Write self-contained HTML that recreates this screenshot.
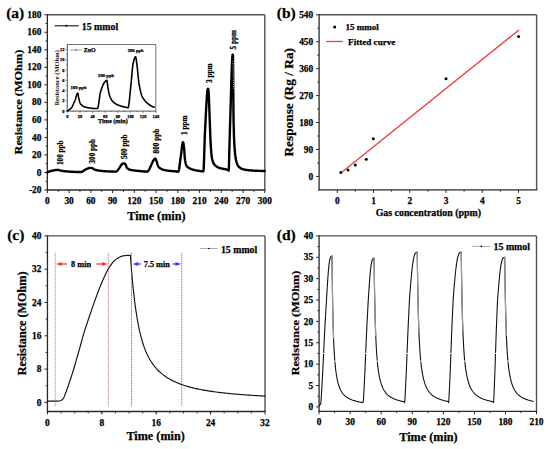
<!DOCTYPE html>
<html><head><meta charset="utf-8"><style>
html,body{margin:0;padding:0;background:#fff;}
body{width:550px;height:449px;overflow:hidden;}
svg{display:block;}
text{font-family:"Liberation Serif",serif;font-weight:bold;stroke:#000;stroke-width:0.25px;paint-order:stroke;}
</style></head><body>
<svg width="550" height="449" viewBox="0 0 550 449">
<rect width="550" height="449" fill="#fff"/>
<line x1="47.35" y1="14.75" x2="264.8" y2="14.75" stroke="#505050" stroke-width="1.4" />
<line x1="264.8" y1="14.75" x2="264.8" y2="190" stroke="#505050" stroke-width="1.4" />
<line x1="47.35" y1="14.1" x2="47.35" y2="190.65" stroke="#2a2a2a" stroke-width="1.3" />
<line x1="46.7" y1="190" x2="265.5" y2="190" stroke="#2a2a2a" stroke-width="1.3" />
<line x1="58.22" y1="190" x2="58.22" y2="191.8" stroke="#2a2a2a" stroke-width="1.0" />
<line x1="79.97" y1="190" x2="79.97" y2="191.8" stroke="#2a2a2a" stroke-width="1.0" />
<line x1="101.71" y1="190" x2="101.71" y2="191.8" stroke="#2a2a2a" stroke-width="1.0" />
<line x1="123.46" y1="190" x2="123.46" y2="191.8" stroke="#2a2a2a" stroke-width="1.0" />
<line x1="145.2" y1="190" x2="145.2" y2="191.8" stroke="#2a2a2a" stroke-width="1.0" />
<line x1="166.95" y1="190" x2="166.95" y2="191.8" stroke="#2a2a2a" stroke-width="1.0" />
<line x1="188.69" y1="190" x2="188.69" y2="191.8" stroke="#2a2a2a" stroke-width="1.0" />
<line x1="210.44" y1="190" x2="210.44" y2="191.8" stroke="#2a2a2a" stroke-width="1.0" />
<line x1="232.18" y1="190" x2="232.18" y2="191.8" stroke="#2a2a2a" stroke-width="1.0" />
<line x1="253.93" y1="190" x2="253.93" y2="191.8" stroke="#2a2a2a" stroke-width="1.0" />
<line x1="47.35" y1="190" x2="47.35" y2="193" stroke="#2a2a2a" stroke-width="1.0" />
<line x1="69.09" y1="190" x2="69.09" y2="193" stroke="#2a2a2a" stroke-width="1.0" />
<line x1="90.84" y1="190" x2="90.84" y2="193" stroke="#2a2a2a" stroke-width="1.0" />
<line x1="112.59" y1="190" x2="112.59" y2="193" stroke="#2a2a2a" stroke-width="1.0" />
<line x1="134.33" y1="190" x2="134.33" y2="193" stroke="#2a2a2a" stroke-width="1.0" />
<line x1="156.08" y1="190" x2="156.08" y2="193" stroke="#2a2a2a" stroke-width="1.0" />
<line x1="177.82" y1="190" x2="177.82" y2="193" stroke="#2a2a2a" stroke-width="1.0" />
<line x1="199.56" y1="190" x2="199.56" y2="193" stroke="#2a2a2a" stroke-width="1.0" />
<line x1="221.31" y1="190" x2="221.31" y2="193" stroke="#2a2a2a" stroke-width="1.0" />
<line x1="243.06" y1="190" x2="243.06" y2="193" stroke="#2a2a2a" stroke-width="1.0" />
<line x1="264.8" y1="190" x2="264.8" y2="193" stroke="#2a2a2a" stroke-width="1.0" />
<line x1="47.35" y1="181.24" x2="45.55" y2="181.24" stroke="#2a2a2a" stroke-width="1.0" />
<line x1="47.35" y1="163.71" x2="45.55" y2="163.71" stroke="#2a2a2a" stroke-width="1.0" />
<line x1="47.35" y1="146.19" x2="45.55" y2="146.19" stroke="#2a2a2a" stroke-width="1.0" />
<line x1="47.35" y1="128.66" x2="45.55" y2="128.66" stroke="#2a2a2a" stroke-width="1.0" />
<line x1="47.35" y1="111.14" x2="45.55" y2="111.14" stroke="#2a2a2a" stroke-width="1.0" />
<line x1="47.35" y1="93.61" x2="45.55" y2="93.61" stroke="#2a2a2a" stroke-width="1.0" />
<line x1="47.35" y1="76.09" x2="45.55" y2="76.09" stroke="#2a2a2a" stroke-width="1.0" />
<line x1="47.35" y1="58.56" x2="45.55" y2="58.56" stroke="#2a2a2a" stroke-width="1.0" />
<line x1="47.35" y1="41.04" x2="45.55" y2="41.04" stroke="#2a2a2a" stroke-width="1.0" />
<line x1="47.35" y1="23.51" x2="45.55" y2="23.51" stroke="#2a2a2a" stroke-width="1.0" />
<line x1="47.35" y1="190" x2="44.35" y2="190" stroke="#2a2a2a" stroke-width="1.0" />
<line x1="47.35" y1="172.47" x2="44.35" y2="172.47" stroke="#2a2a2a" stroke-width="1.0" />
<line x1="47.35" y1="154.95" x2="44.35" y2="154.95" stroke="#2a2a2a" stroke-width="1.0" />
<line x1="47.35" y1="137.43" x2="44.35" y2="137.43" stroke="#2a2a2a" stroke-width="1.0" />
<line x1="47.35" y1="119.9" x2="44.35" y2="119.9" stroke="#2a2a2a" stroke-width="1.0" />
<line x1="47.35" y1="102.38" x2="44.35" y2="102.38" stroke="#2a2a2a" stroke-width="1.0" />
<line x1="47.35" y1="84.85" x2="44.35" y2="84.85" stroke="#2a2a2a" stroke-width="1.0" />
<line x1="47.35" y1="67.33" x2="44.35" y2="67.33" stroke="#2a2a2a" stroke-width="1.0" />
<line x1="47.35" y1="49.8" x2="44.35" y2="49.8" stroke="#2a2a2a" stroke-width="1.0" />
<line x1="47.35" y1="32.28" x2="44.35" y2="32.28" stroke="#2a2a2a" stroke-width="1.0" />
<line x1="47.35" y1="14.75" x2="44.35" y2="14.75" stroke="#2a2a2a" stroke-width="1.0" />
<text x="47.35" y="203.8" font-size="9.4" text-anchor="middle" fill="#000" >0</text>
<text x="69.09" y="203.8" font-size="9.4" text-anchor="middle" fill="#000" >30</text>
<text x="90.84" y="203.8" font-size="9.4" text-anchor="middle" fill="#000" >60</text>
<text x="112.59" y="203.8" font-size="9.4" text-anchor="middle" fill="#000" >90</text>
<text x="134.33" y="203.8" font-size="9.4" text-anchor="middle" fill="#000" >120</text>
<text x="156.08" y="203.8" font-size="9.4" text-anchor="middle" fill="#000" >150</text>
<text x="177.82" y="203.8" font-size="9.4" text-anchor="middle" fill="#000" >180</text>
<text x="199.56" y="203.8" font-size="9.4" text-anchor="middle" fill="#000" >210</text>
<text x="221.31" y="203.8" font-size="9.4" text-anchor="middle" fill="#000" >240</text>
<text x="243.06" y="203.8" font-size="9.4" text-anchor="middle" fill="#000" >270</text>
<text x="264.8" y="203.8" font-size="9.4" text-anchor="middle" fill="#000" >300</text>
<text x="41.4" y="193.1" font-size="9.4" text-anchor="end" fill="#000" >-20</text>
<text x="41.4" y="175.58" font-size="9.4" text-anchor="end" fill="#000" >0</text>
<text x="41.4" y="158.05" font-size="9.4" text-anchor="end" fill="#000" >20</text>
<text x="41.4" y="140.53" font-size="9.4" text-anchor="end" fill="#000" >40</text>
<text x="41.4" y="123" font-size="9.4" text-anchor="end" fill="#000" >60</text>
<text x="41.4" y="105.48" font-size="9.4" text-anchor="end" fill="#000" >80</text>
<text x="41.4" y="87.95" font-size="9.4" text-anchor="end" fill="#000" >100</text>
<text x="41.4" y="70.43" font-size="9.4" text-anchor="end" fill="#000" >120</text>
<text x="41.4" y="52.9" font-size="9.4" text-anchor="end" fill="#000" >140</text>
<text x="41.4" y="35.38" font-size="9.4" text-anchor="end" fill="#000" >160</text>
<text x="41.4" y="17.85" font-size="9.4" text-anchor="end" fill="#000" >180</text>
<polyline points="47.35,172.39 47.5,172.32 47.64,172.26 47.79,172.19 47.93,172.12 48.08,172.06 48.22,172 48.37,171.93 48.51,171.87 48.66,171.81 48.8,171.75 48.95,171.69 49.09,171.63 49.24,171.57 49.38,171.51 49.53,171.46 49.67,171.4 49.82,171.35 49.96,171.3 50.11,171.25 50.25,171.2 50.4,171.15 50.54,171.11 50.69,171.07 50.83,171.02 50.98,170.99 51.12,170.95 51.27,170.91 51.34,170.9 51.41,170.88 51.56,170.85 51.7,170.82 51.85,170.78 51.99,170.75 52.14,170.72 52.28,170.69 52.43,170.65 52.57,170.62 52.72,170.59 52.86,170.56 53.01,170.53 53.15,170.5 53.3,170.47 53.44,170.44 53.59,170.41 53.73,170.38 53.88,170.35 54.02,170.32 54.17,170.29 54.31,170.27 54.46,170.24 54.6,170.21 54.75,170.19 54.89,170.17 55.04,170.14 55.18,170.12 55.33,170.1 55.47,170.08 55.62,170.06 55.76,170.04 55.91,170.02 56.05,170 56.2,169.99 56.34,169.97 56.49,169.96 56.63,169.95 56.78,169.93 56.92,169.92 57.07,169.92 57.21,169.91 57.36,169.9 57.5,169.9 57.65,169.89 57.79,169.89 57.93,169.89 57.94,169.89 58.08,169.9 58.23,169.91 58.37,169.93 58.52,169.96 58.66,170 58.81,170.04 58.96,170.08 59.1,170.13 59.25,170.18 59.39,170.22 59.54,170.27 59.68,170.32 59.83,170.37 59.97,170.41 60.12,170.44 60.18,170.46 60.26,170.48 60.41,170.51 60.55,170.54 60.7,170.57 60.84,170.61 60.99,170.64 61.13,170.67 61.28,170.7 61.42,170.73 61.57,170.76 61.71,170.79 61.86,170.82 62,170.85 62.15,170.88 62.29,170.91 62.44,170.93 62.58,170.96 62.73,170.98 62.87,171 63.02,171.03 63.16,171.05 63.31,171.07 63.37,171.07 63.45,171.08 63.6,171.1 63.74,171.12 63.89,171.13 64.03,171.15 64.18,171.17 64.32,171.18 64.47,171.2 64.61,171.22 64.76,171.23 64.9,171.25 65.05,171.26 65.19,171.28 65.34,171.29 65.48,171.31 65.63,171.32 65.77,171.33 65.92,171.35 66.06,171.36 66.21,171.38 66.35,171.39 66.5,171.4 66.64,171.41 66.79,171.43 66.93,171.44 67.08,171.45 67.22,171.46 67.37,171.48 67.51,171.49 67.66,171.5 67.8,171.51 67.95,171.52 68.09,171.53 68.24,171.55 68.38,171.56 68.53,171.57 68.67,171.58 68.82,171.59 68.96,171.6 69.11,171.61 69.25,171.62 69.4,171.63 69.54,171.64 69.69,171.64 69.83,171.65 69.98,171.66 70.12,171.67 70.27,171.68 70.42,171.69 70.56,171.7 70.71,171.7 70.85,171.71 71,171.72 71.14,171.73 71.29,171.73 71.43,171.74 71.58,171.75 71.72,171.76 71.87,171.76 72.01,171.77 72.14,171.77 72.16,171.77 72.3,171.78 72.45,171.79 72.59,171.79 72.74,171.8 72.88,171.81 73.03,171.81 73.17,171.82 73.32,171.83 73.46,171.83 73.61,171.84 73.75,171.84 73.9,171.85 74.04,171.86 74.19,171.86 74.33,171.87 74.48,171.87 74.62,171.88 74.77,171.89 74.91,171.89 75.06,171.9 75.2,171.9 75.35,171.91 75.49,171.92 75.64,171.92 75.78,171.93 75.93,171.93 76.07,171.94 76.22,171.94 76.36,171.95 76.51,171.95 76.65,171.96 76.8,171.96 76.94,171.97 77.09,171.97 77.23,171.98 77.38,171.98 77.52,171.98 77.67,171.99 77.81,171.99 77.96,172 78.1,172 78.25,172 78.39,172.01 78.54,172.01 78.68,172.01 78.83,172.02 78.97,172.02 79.12,172.02 79.26,172.02 79.41,172.03 79.55,172.03 79.7,172.03 79.84,172.03 79.99,172.03 80.13,172.03 80.28,172.03 80.42,172.04 80.57,172.04 80.71,172.04 80.86,172.04 80.91,172.04 81,172.03 81.15,172.02 81.29,172 81.44,171.97 81.58,171.94 81.73,171.89 81.88,171.84 82.02,171.78 82.17,171.72 82.31,171.64 82.46,171.57 82.6,171.49 82.75,171.4 82.89,171.31 83.04,171.21 83.18,171.11 83.33,171.01 83.47,170.91 83.62,170.81 83.76,170.7 83.91,170.59 84.05,170.48 84.2,170.38 84.34,170.27 84.49,170.16 84.63,170.06 84.78,169.95 84.92,169.85 85.07,169.75 85.21,169.65 85.36,169.56 85.5,169.47 85.65,169.39 85.79,169.31 85.94,169.23 86.08,169.17 86.23,169.1 86.35,169.06 86.37,169.05 86.52,168.99 86.66,168.94 86.81,168.88 86.95,168.83 87.1,168.77 87.24,168.71 87.39,168.66 87.53,168.6 87.68,168.55 87.82,168.49 87.97,168.44 88.11,168.39 88.26,168.33 88.4,168.28 88.55,168.24 88.69,168.19 88.84,168.14 88.98,168.1 89.13,168.06 89.27,168.02 89.42,167.99 89.56,167.96 89.71,167.93 89.85,167.9 90,167.88 90.14,167.86 90.29,167.85 90.43,167.84 90.58,167.83 90.7,167.83 90.72,167.83 90.87,167.84 91.01,167.85 91.16,167.87 91.3,167.9 91.45,167.93 91.59,167.97 91.74,168.01 91.88,168.06 92.03,168.11 92.17,168.17 92.32,168.22 92.46,168.28 92.61,168.34 92.75,168.4 92.87,168.44 92.9,168.46 93.04,168.53 93.19,168.62 93.34,168.73 93.48,168.84 93.63,168.96 93.77,169.08 93.92,169.2 94.06,169.31 94.21,169.41 94.35,169.5 94.5,169.57 94.54,169.58 94.64,169.62 94.79,169.67 94.93,169.72 95.08,169.76 95.22,169.81 95.37,169.85 95.51,169.89 95.66,169.93 95.8,169.97 95.95,170.01 96.09,170.05 96.24,170.08 96.38,170.11 96.53,170.15 96.67,170.18 96.82,170.21 96.96,170.24 97.11,170.26 97.25,170.29 97.4,170.32 97.54,170.34 97.69,170.37 97.83,170.39 97.98,170.42 98.12,170.44 98.27,170.47 98.41,170.49 98.56,170.51 98.7,170.53 98.85,170.55 98.99,170.58 99.14,170.6 99.28,170.62 99.39,170.63 99.43,170.64 99.57,170.66 99.72,170.68 99.86,170.7 100.01,170.72 100.15,170.75 100.3,170.77 100.44,170.79 100.59,170.81 100.73,170.83 100.88,170.85 101.02,170.87 101.17,170.89 101.31,170.9 101.46,170.92 101.6,170.94 101.75,170.96 101.89,170.98 102.04,170.99 102.18,171.01 102.33,171.03 102.47,171.04 102.62,171.06 102.76,171.08 102.91,171.09 103.05,171.11 103.2,171.12 103.34,171.13 103.49,171.15 103.63,171.16 103.78,171.17 103.92,171.18 104.07,171.19 104.21,171.21 104.36,171.22 104.5,171.22 104.65,171.23 104.8,171.24 104.9,171.25 104.94,171.25 105.09,171.26 105.23,171.27 105.38,171.27 105.52,171.28 105.67,171.29 105.81,171.3 105.96,171.3 106.1,171.31 106.25,171.32 106.39,171.33 106.54,171.33 106.68,171.34 106.83,171.35 106.97,171.35 107.12,171.36 107.26,171.37 107.41,171.37 107.55,171.38 107.7,171.39 107.84,171.39 107.99,171.4 108.13,171.41 108.28,171.41 108.42,171.42 108.57,171.43 108.71,171.43 108.86,171.44 109,171.44 109.15,171.45 109.29,171.46 109.44,171.46 109.58,171.47 109.73,171.47 109.87,171.48 110.02,171.48 110.16,171.49 110.31,171.49 110.45,171.5 110.6,171.5 110.74,171.51 110.89,171.51 111.03,171.52 111.18,171.52 111.32,171.53 111.47,171.53 111.61,171.54 111.76,171.54 111.9,171.54 112.05,171.55 112.19,171.55 112.34,171.56 112.48,171.56 112.63,171.56 112.77,171.57 112.92,171.57 113.06,171.57 113.21,171.57 113.35,171.58 113.5,171.58 113.64,171.58 113.79,171.58 113.93,171.59 114.08,171.59 114.22,171.59 114.37,171.59 114.51,171.59 114.66,171.59 114.8,171.6 114.95,171.6 115.09,171.6 115.24,171.6 115.38,171.6 115.53,171.6 115.67,171.6 115.77,171.6 115.82,171.6 115.96,171.58 116.11,171.55 116.26,171.51 116.4,171.44 116.55,171.36 116.69,171.27 116.84,171.17 116.98,171.05 117.13,170.92 117.27,170.78 117.42,170.63 117.56,170.46 117.71,170.29 117.85,170.11 118,169.92 118.14,169.72 118.29,169.52 118.43,169.31 118.58,169.1 118.72,168.88 118.87,168.66 119.01,168.43 119.16,168.2 119.3,167.97 119.45,167.74 119.59,167.51 119.74,167.27 119.88,167.04 120.03,166.81 120.17,166.58 120.32,166.35 120.46,166.13 120.61,165.91 120.75,165.7 120.9,165.49 121.04,165.29 121.19,165.1 121.33,164.91 121.48,164.73 121.62,164.56 121.77,164.4 121.91,164.25 122.06,164.11 122.2,163.98 122.35,163.86 122.49,163.76 122.64,163.67 122.78,163.59 122.93,163.53 123.07,163.49 123.22,163.46 123.36,163.45 123.39,163.45 123.51,163.45 123.65,163.46 123.8,163.48 123.94,163.51 124.09,163.54 124.23,163.58 124.38,163.62 124.52,163.67 124.67,163.73 124.81,163.79 124.96,163.85 125.05,163.89 125.1,163.92 125.25,164.04 125.39,164.23 125.54,164.48 125.68,164.77 125.83,165.1 125.97,165.45 126.12,165.82 126.26,166.2 126.41,166.58 126.55,166.94 126.7,167.28 126.84,167.6 126.99,167.87 127.13,168.09 127.28,168.25 127.3,168.27 127.42,168.37 127.57,168.49 127.72,168.59 127.86,168.7 128.01,168.8 128.15,168.89 128.3,168.98 128.44,169.07 128.59,169.15 128.73,169.23 128.88,169.3 129.02,169.37 129.17,169.43 129.31,169.49 129.46,169.55 129.6,169.61 129.75,169.66 129.89,169.7 130.04,169.75 130.18,169.79 130.33,169.82 130.42,169.85 130.47,169.86 130.62,169.89 130.76,169.92 130.91,169.96 131.05,169.99 131.2,170.02 131.34,170.05 131.49,170.07 131.63,170.1 131.78,170.13 131.92,170.16 132.07,170.18 132.21,170.21 132.36,170.23 132.5,170.25 132.65,170.28 132.79,170.3 132.94,170.32 133.08,170.34 133.23,170.37 133.37,170.39 133.52,170.41 133.66,170.42 133.81,170.44 133.95,170.46 134.1,170.48 134.24,170.5 134.39,170.52 134.53,170.53 134.68,170.55 134.82,170.57 134.97,170.58 135.11,170.6 135.26,170.61 135.4,170.63 135.55,170.65 135.69,170.66 135.84,170.68 135.98,170.69 136.13,170.7 136.27,170.72 136.42,170.73 136.56,170.75 136.71,170.76 136.85,170.78 137,170.79 137.14,170.8 137.29,170.82 137.43,170.83 137.58,170.85 137.72,170.86 137.87,170.87 138.01,170.89 138.1,170.9 138.16,170.9 138.3,170.92 138.45,170.93 138.59,170.95 138.74,170.96 138.88,170.98 139.03,170.99 139.18,171.01 139.32,171.03 139.47,171.04 139.61,171.06 139.76,171.07 139.9,171.09 140.05,171.1 140.19,171.12 140.34,171.13 140.48,171.15 140.63,171.17 140.77,171.18 140.92,171.2 141.06,171.21 141.21,171.23 141.35,171.24 141.5,171.26 141.64,171.27 141.79,171.29 141.93,171.3 142.08,171.31 142.22,171.33 142.37,171.34 142.51,171.36 142.66,171.37 142.8,171.38 142.95,171.4 143.09,171.41 143.24,171.42 143.38,171.43 143.53,171.44 143.67,171.46 143.82,171.47 143.96,171.48 144.11,171.49 144.25,171.5 144.4,171.51 144.54,171.52 144.69,171.53 144.83,171.53 144.98,171.54 145.12,171.55 145.27,171.56 145.41,171.56 145.56,171.57 145.7,171.57 145.85,171.58 145.99,171.58 146.14,171.59 146.28,171.59 146.43,171.59 146.57,171.6 146.72,171.6 146.86,171.6 147.01,171.6 147.01,171.6 147.15,171.59 147.3,171.55 147.44,171.5 147.59,171.42 147.73,171.33 147.88,171.21 148.02,171.07 148.17,170.92 148.31,170.75 148.46,170.57 148.6,170.36 148.75,170.15 148.89,169.92 149.04,169.67 149.18,169.42 149.33,169.15 149.47,168.88 149.62,168.59 149.76,168.3 149.91,167.99 150.05,167.68 150.2,167.36 150.34,167.04 150.49,166.72 150.64,166.38 150.78,166.05 150.93,165.71 151.07,165.38 151.22,165.04 151.36,164.7 151.51,164.36 151.65,164.03 151.8,163.69 151.94,163.36 152.09,163.04 152.23,162.72 152.38,162.41 152.52,162.1 152.67,161.8 152.81,161.51 152.96,161.22 153.1,160.95 153.25,160.69 153.39,160.44 153.54,160.21 153.68,159.98 153.83,159.77 153.97,159.58 154.12,159.4 154.26,159.24 154.41,159.09 154.55,158.96 154.7,158.86 154.84,158.77 154.99,158.7 155.13,158.66 155.28,158.63 155.35,158.63 155.42,158.65 155.57,158.78 155.71,159.01 155.86,159.33 156,159.7 156.15,160.1 156.29,160.51 156.44,160.9 156.51,161.08 156.58,161.27 156.73,161.67 156.87,162.11 157.02,162.58 157.16,163.07 157.31,163.58 157.45,164.08 157.6,164.57 157.74,165.04 157.89,165.48 158.03,165.87 158.18,166.21 158.32,166.49 158.47,166.69 158.47,166.69 158.61,166.85 158.76,167.01 158.9,167.16 159.05,167.31 159.19,167.45 159.34,167.58 159.48,167.71 159.63,167.84 159.77,167.96 159.92,168.08 160.06,168.19 160.21,168.3 160.35,168.4 160.5,168.5 160.64,168.6 160.79,168.69 160.93,168.78 161.08,168.86 161.22,168.94 161.37,169.02 161.51,169.09 161.66,169.16 161.81,169.23 161.95,169.3 162.1,169.36 162.24,169.42 162.39,169.48 162.53,169.53 162.68,169.58 162.82,169.63 162.97,169.68 163.11,169.72 163.26,169.77 163.4,169.81 163.54,169.85 163.55,169.85 163.69,169.89 163.84,169.92 163.98,169.96 164.13,169.99 164.27,170.03 164.42,170.06 164.56,170.1 164.71,170.13 164.85,170.16 165,170.19 165.14,170.22 165.29,170.25 165.43,170.28 165.58,170.3 165.72,170.33 165.87,170.36 166.01,170.38 166.16,170.41 166.3,170.43 166.45,170.45 166.59,170.48 166.74,170.5 166.88,170.52 167.03,170.54 167.17,170.56 167.32,170.59 167.46,170.61 167.61,170.63 167.75,170.64 167.9,170.66 168.04,170.68 168.19,170.7 168.33,170.72 168.48,170.74 168.62,170.75 168.77,170.77 168.91,170.79 169.06,170.8 169.2,170.82 169.35,170.84 169.49,170.85 169.64,170.87 169.78,170.88 169.92,170.9 169.93,170.9 170.07,170.91 170.22,170.93 170.36,170.94 170.51,170.96 170.65,170.97 170.8,170.98 170.94,171 171.09,171.01 171.23,171.02 171.38,171.03 171.52,171.04 171.67,171.06 171.81,171.07 171.96,171.08 172.1,171.09 172.25,171.1 172.39,171.11 172.54,171.12 172.68,171.13 172.83,171.14 172.97,171.15 173.12,171.16 173.27,171.18 173.41,171.19 173.56,171.2 173.7,171.21 173.85,171.22 173.99,171.23 174.14,171.24 174.2,171.25 174.28,171.26 174.43,171.27 174.57,171.28 174.72,171.3 174.86,171.31 175.01,171.33 175.15,171.34 175.3,171.36 175.44,171.38 175.59,171.39 175.73,171.41 175.88,171.42 176.02,171.44 176.17,171.46 176.31,171.47 176.46,171.49 176.6,171.5 176.75,171.52 176.89,171.53 177.04,171.54 177.18,171.55 177.33,171.56 177.47,171.57 177.62,171.58 177.76,171.59 177.91,171.59 178.05,171.6 178.2,171.6 178.33,171.6 178.34,171.6 178.49,171.47 178.63,171.15 178.78,170.65 178.92,170 179.07,169.21 179.21,168.31 179.36,167.32 179.5,166.26 179.65,165.14 179.79,164 179.94,162.84 180.08,161.7 180.23,160.59 180.37,159.53 180.52,158.55 180.57,158.19 180.66,157.62 180.81,156.59 180.95,155.48 181.1,154.3 181.24,153.08 181.39,151.83 181.53,150.57 181.68,149.33 181.82,148.12 181.97,146.97 182.11,145.89 182.26,144.91 182.4,144.05 182.55,143.32 182.69,142.75 182.84,142.36 182.98,142.17 183.04,142.16 183.13,142.23 183.27,142.6 183.42,143.26 183.56,144.13 183.71,145.18 183.85,146.34 184,147.57 184.13,148.64 184.14,148.81 184.29,150.51 184.43,152.72 184.58,155.09 184.73,157.28 184.87,158.93 184.92,159.33 185.02,159.9 185.16,160.75 185.31,161.53 185.45,162.25 185.6,162.9 185.74,163.5 185.89,164.03 186.03,164.51 186.18,164.93 186.32,165.28 186.47,165.58 186.61,165.83 186.66,165.9 186.76,166.03 186.9,166.21 187.05,166.39 187.19,166.56 187.34,166.72 187.48,166.87 187.63,167.01 187.77,167.15 187.92,167.28 188.06,167.4 188.21,167.51 188.35,167.62 188.5,167.73 188.64,167.83 188.79,167.92 188.93,168.01 189.08,168.09 189.22,168.17 189.37,168.25 189.51,168.33 189.66,168.4 189.8,168.46 189.95,168.53 190.09,168.59 190.24,168.65 190.38,168.72 190.53,168.77 190.58,168.79 190.67,168.83 190.82,168.89 190.96,168.95 191.11,169 191.25,169.06 191.4,169.11 191.54,169.16 191.69,169.22 191.83,169.27 191.98,169.32 192.12,169.37 192.27,169.41 192.41,169.46 192.56,169.51 192.7,169.55 192.85,169.6 192.99,169.64 193.14,169.68 193.28,169.73 193.43,169.77 193.57,169.81 193.72,169.85 193.86,169.89 194.01,169.92 194.15,169.96 194.3,170 194.44,170.04 194.59,170.07 194.73,170.11 194.88,170.14 195.02,170.17 195.17,170.21 195.31,170.24 195.46,170.27 195.6,170.3 195.75,170.33 195.89,170.36 196.04,170.39 196.19,170.42 196.33,170.45 196.48,170.48 196.62,170.51 196.77,170.54 196.91,170.56 197.06,170.59 197.2,170.62 197.35,170.64 197.49,170.67 197.64,170.69 197.78,170.72 197.93,170.74 198.07,170.77 198.22,170.79 198.33,170.81 198.36,170.81 198.51,170.84 198.65,170.86 198.8,170.89 198.94,170.91 199.09,170.94 199.23,170.96 199.38,170.99 199.52,171.01 199.67,171.03 199.81,171.06 199.96,171.08 200.1,171.11 200.25,171.13 200.39,171.15 200.54,171.17 200.68,171.2 200.83,171.22 200.97,171.24 201.12,171.26 201.26,171.28 201.41,171.29 201.55,171.31 201.7,171.33 201.84,171.34 201.99,171.36 202.13,171.37 202.28,171.38 202.42,171.39 202.57,171.4 202.71,171.41 202.86,171.41 203,171.42 203.15,171.42 203.29,171.42 203.33,171.42 203.44,171.1 203.58,169.68 203.73,167.28 203.87,164.07 204.02,160.24 204.16,155.96 204.31,151.4 204.45,146.76 204.6,142.19 204.74,137.88 204.89,134 205.03,130.74 205.07,129.98 205.18,128.01 205.32,125.23 205.47,122.39 205.61,119.52 205.76,116.64 205.9,113.77 206.05,110.93 206.19,108.17 206.34,105.49 206.48,102.92 206.63,100.49 206.77,98.21 206.92,96.13 207.06,94.26 207.21,92.62 207.35,91.24 207.5,90.14 207.65,89.35 207.79,88.9 207.9,88.79 207.94,88.8 208.08,88.87 208.23,89.04 208.34,89.23 208.37,89.35 208.52,90.78 208.66,93.02 208.7,93.61 208.81,95.52 208.95,98.73 209.1,102.48 209.24,106.58 209.39,110.83 209.53,115.02 209.68,118.96 209.71,119.9 209.82,122.69 209.97,126.58 210.11,130.55 210.26,134.45 210.4,138.15 210.55,141.52 210.69,144.41 210.8,146.19 210.84,146.72 210.98,148.74 211.13,150.63 211.27,152.37 211.42,153.92 211.56,155.29 211.71,156.45 211.85,157.39 211.89,157.58 212,158.14 212.14,158.84 212.29,159.49 212.43,160.1 212.58,160.67 212.72,161.19 212.87,161.67 213.01,162.11 213.16,162.5 213.3,162.85 213.45,163.16 213.59,163.43 213.74,163.66 213.77,163.71 213.88,163.86 214.03,164.06 214.17,164.24 214.32,164.42 214.46,164.59 214.61,164.76 214.75,164.92 214.9,165.08 215.04,165.23 215.19,165.37 215.33,165.51 215.48,165.64 215.62,165.77 215.77,165.9 215.91,166.02 216.06,166.13 216.2,166.24 216.35,166.35 216.49,166.45 216.64,166.55 216.78,166.65 216.93,166.74 217.07,166.83 217.22,166.91 217.36,166.99 217.51,167.07 217.65,167.15 217.8,167.22 217.94,167.29 218.09,167.36 218.23,167.43 218.38,167.49 218.52,167.55 218.67,167.61 218.81,167.67 218.96,167.73 218.99,167.74 219.11,167.79 219.25,167.84 219.4,167.89 219.54,167.94 219.69,167.99 219.83,168.04 219.98,168.08 220.12,168.13 220.27,168.17 220.41,168.21 220.56,168.25 220.7,168.29 220.85,168.32 220.99,168.36 221.14,168.39 221.28,168.43 221.43,168.46 221.57,168.49 221.72,168.52 221.86,168.55 222.01,168.58 222.15,168.61 222.3,168.63 222.44,168.66 222.59,168.69 222.73,168.71 222.88,168.74 223.02,168.77 223.17,168.79 223.31,168.82 223.46,168.84 223.6,168.87 223.75,168.9 223.89,168.92 224.04,168.95 224.18,168.98 224.33,169 224.47,169.03 224.62,169.06 224.76,169.09 224.91,169.12 225.05,169.15 225.2,169.18 225.34,169.21 225.49,169.25 225.63,169.28 225.78,169.32 225.92,169.36 226.07,169.39 226.21,169.43 226.36,169.48 226.5,169.52 226.65,169.56 226.79,169.61 226.94,169.66 227.08,169.7 227.23,169.76 227.37,169.81 227.47,169.85 227.52,169.87 227.66,169.94 227.81,170.04 227.95,170.15 228.1,170.26 228.24,170.37 228.39,170.46 228.53,170.52 228.68,170.55 228.7,170.55 228.82,169.34 228.97,165.33 229.11,159.6 229.26,153.29 229.4,147.52 229.43,146.71 229.55,142.61 229.69,137.59 229.84,132.56 229.98,127.62 230.13,122.87 230.23,119.9 230.27,118.39 230.42,113.75 230.57,108.89 230.71,103.86 230.86,98.73 231,93.58 231.15,88.48 231.29,83.48 231.44,78.66 231.58,74.09 231.73,69.84 231.87,65.97 232.02,62.55 232.16,59.66 232.31,57.35 232.45,55.71 232.6,54.79 232.69,54.62 232.74,54.69 232.89,55.49 232.98,56.37 233.03,58.02 233.18,72.1 233.32,93.19 233.47,112.51 233.56,119.9 233.61,122.28 233.76,128.3 233.9,133.4 234.05,137.67 234.19,141.2 234.34,144.09 234.48,146.43 234.5,146.71 234.63,148.4 234.77,150.21 234.92,151.87 235.06,153.39 235.21,154.76 235.35,156 235.5,157.1 235.64,158.07 235.79,158.91 235.93,159.64 236.02,160.03 236.08,160.25 236.22,160.82 236.37,161.36 236.51,161.88 236.66,162.38 236.8,162.84 236.95,163.29 237.09,163.71 237.24,164.1 237.38,164.47 237.53,164.81 237.67,165.13 237.82,165.43 237.96,165.7 238.11,165.94 238.25,166.16 238.4,166.36 238.54,166.53 238.69,166.68 238.71,166.69 238.83,166.81 238.98,166.93 239.12,167.05 239.27,167.17 239.41,167.29 239.56,167.4 239.7,167.51 239.85,167.62 239.99,167.72 240.14,167.82 240.28,167.92 240.43,168.02 240.57,168.11 240.72,168.2 240.86,168.28 241.01,168.36 241.15,168.44 241.3,168.52 241.44,168.6 241.59,168.67 241.73,168.74 241.88,168.81 242.03,168.87 242.17,168.93 242.32,168.99 242.46,169.05 242.61,169.1 242.75,169.16 242.9,169.21 243.04,169.26 243.19,169.3 243.33,169.35 243.48,169.39 243.62,169.43 243.77,169.47 243.91,169.5 244.06,169.54 244.2,169.57 244.35,169.6 244.49,169.63 244.64,169.66 244.72,169.67 244.78,169.68 244.93,169.71 245.07,169.73 245.22,169.76 245.36,169.78 245.51,169.8 245.65,169.83 245.8,169.85 245.94,169.87 246.09,169.89 246.23,169.92 246.38,169.94 246.52,169.96 246.67,169.98 246.81,170 246.96,170.02 247.1,170.04 247.25,170.06 247.39,170.08 247.54,170.1 247.68,170.11 247.83,170.13 247.97,170.15 248.12,170.17 248.26,170.19 248.41,170.2 248.55,170.22 248.7,170.24 248.84,170.25 248.99,170.27 249.13,170.28 249.28,170.3 249.42,170.31 249.57,170.33 249.71,170.34 249.86,170.36 250,170.37 250.15,170.38 250.29,170.4 250.44,170.41 250.58,170.42 250.73,170.43 250.87,170.45 251.02,170.46 251.16,170.47 251.31,170.48 251.45,170.49 251.6,170.5 251.74,170.51 251.89,170.53 252.03,170.54 252.18,170.55 252.32,170.56 252.47,170.57 252.61,170.57 252.76,170.58 252.9,170.59 253.05,170.6 253.19,170.61 253.34,170.62 253.49,170.63 253.63,170.64 253.78,170.64 253.92,170.65 254.07,170.66 254.21,170.67 254.36,170.67 254.5,170.68 254.65,170.69 254.79,170.7 254.94,170.7 255.08,170.71 255.23,170.72 255.37,170.72 255.38,170.72 255.52,170.73 255.66,170.73 255.81,170.74 255.95,170.75 256.1,170.75 256.24,170.76 256.39,170.77 256.53,170.77 256.68,170.78 256.82,170.78 256.97,170.79 257.11,170.8 257.26,170.8 257.4,170.81 257.55,170.81 257.69,170.82 257.84,170.82 257.98,170.83 258.13,170.84 258.27,170.84 258.42,170.85 258.56,170.85 258.71,170.86 258.85,170.86 259,170.87 259.14,170.87 259.29,170.88 259.43,170.88 259.58,170.89 259.72,170.89 259.87,170.9 260.01,170.9 260.16,170.91 260.3,170.91 260.45,170.92 260.59,170.92 260.74,170.92 260.88,170.93 261.03,170.93 261.17,170.94 261.32,170.94 261.46,170.94 261.61,170.95 261.75,170.95 261.9,170.95 262.04,170.96 262.19,170.96 262.33,170.96 262.48,170.96 262.62,170.97 262.77,170.97 262.91,170.97 263.06,170.97 263.2,170.97 263.35,170.98 263.49,170.98 263.64,170.98 263.78,170.98 263.93,170.98 264.07,170.98 264.22,170.98 264.36,170.98 264.51,170.99 264.65,170.99 264.8,170.99" fill="none" stroke="#000" stroke-width="2.4" stroke-linejoin="round" stroke-linecap="round" />
<line x1="233" y1="61" x2="233.7" y2="89" stroke="#fff" stroke-width="0.7" stroke-dasharray="1 1.1"/>
<line x1="54.5" y1="25.8" x2="78.6" y2="25.8" stroke="#000" stroke-width="1.0" />
<circle cx="66.3" cy="25.8" r="1" fill="#000"/>
<text x="81.8" y="30.3" font-size="9.85" text-anchor="start" fill="#000" >15 mmol</text>
<text x="156.4" y="219.5" font-size="12.2" text-anchor="middle" fill="#000" >Time (min)</text>
<text x="0" y="0" font-size="12.3" text-anchor="middle" transform="translate(21.98 102.1) rotate(-90) scale(1 0.92)">Resistance (MOhm)</text>
<text x="6.2" y="18" font-size="15.5" text-anchor="start" fill="#000" >(a)</text>
<text x="0" y="0" font-size="7.2" transform="translate(62.58 165) rotate(-90) scale(1 1.0)">100 ppb</text>
<text x="0" y="0" font-size="7.2" transform="translate(94.78 163.5) rotate(-90) scale(1 1.0)">300 ppb</text>
<text x="0" y="0" font-size="7.2" transform="translate(127.28 159.1) rotate(-90) scale(1 1.0)">500 ppb</text>
<text x="0" y="0" font-size="7.2" transform="translate(158.88 153.4) rotate(-90) scale(1 1.0)">800 ppb</text>
<text x="0" y="0" font-size="7.2" transform="translate(186.78 135) rotate(-90) scale(1 1.0)">1 ppm</text>
<text x="0" y="0" font-size="7.2" transform="translate(211.78 83) rotate(-90) scale(1 1.0)">3 ppm</text>
<text x="0" y="0" font-size="7.2" transform="translate(235.98 49.4) rotate(-90) scale(1 1.0)">5 ppm</text>
<rect x="67.3" y="44.5" width="88.50000000000001" height="66.6" fill="#fff"/>
<line x1="67.3" y1="44.5" x2="155.8" y2="44.5" stroke="#505050" stroke-width="0.8" />
<line x1="155.8" y1="44.5" x2="155.8" y2="111.1" stroke="#505050" stroke-width="0.8" />
<line x1="67.3" y1="44.1" x2="67.3" y2="111.5" stroke="#2a2a2a" stroke-width="0.8" />
<line x1="66.9" y1="111.1" x2="156.2" y2="111.1" stroke="#2a2a2a" stroke-width="0.8" />
<line x1="73.62" y1="111.1" x2="73.62" y2="112.1" stroke="#2a2a2a" stroke-width="0.6" />
<line x1="86.26" y1="111.1" x2="86.26" y2="112.1" stroke="#2a2a2a" stroke-width="0.6" />
<line x1="98.91" y1="111.1" x2="98.91" y2="112.1" stroke="#2a2a2a" stroke-width="0.6" />
<line x1="111.55" y1="111.1" x2="111.55" y2="112.1" stroke="#2a2a2a" stroke-width="0.6" />
<line x1="124.19" y1="111.1" x2="124.19" y2="112.1" stroke="#2a2a2a" stroke-width="0.6" />
<line x1="136.84" y1="111.1" x2="136.84" y2="112.1" stroke="#2a2a2a" stroke-width="0.6" />
<line x1="149.48" y1="111.1" x2="149.48" y2="112.1" stroke="#2a2a2a" stroke-width="0.6" />
<line x1="67.3" y1="111.1" x2="67.3" y2="112.9" stroke="#2a2a2a" stroke-width="0.6" />
<line x1="79.94" y1="111.1" x2="79.94" y2="112.9" stroke="#2a2a2a" stroke-width="0.6" />
<line x1="92.59" y1="111.1" x2="92.59" y2="112.9" stroke="#2a2a2a" stroke-width="0.6" />
<line x1="105.23" y1="111.1" x2="105.23" y2="112.9" stroke="#2a2a2a" stroke-width="0.6" />
<line x1="117.87" y1="111.1" x2="117.87" y2="112.9" stroke="#2a2a2a" stroke-width="0.6" />
<line x1="130.51" y1="111.1" x2="130.51" y2="112.9" stroke="#2a2a2a" stroke-width="0.6" />
<line x1="143.16" y1="111.1" x2="143.16" y2="112.9" stroke="#2a2a2a" stroke-width="0.6" />
<line x1="155.8" y1="111.1" x2="155.8" y2="112.9" stroke="#2a2a2a" stroke-width="0.6" />
<line x1="67.3" y1="105.97" x2="66.3" y2="105.97" stroke="#2a2a2a" stroke-width="0.6" />
<line x1="67.3" y1="95.72" x2="66.3" y2="95.72" stroke="#2a2a2a" stroke-width="0.6" />
<line x1="67.3" y1="85.47" x2="66.3" y2="85.47" stroke="#2a2a2a" stroke-width="0.6" />
<line x1="67.3" y1="75.22" x2="66.3" y2="75.22" stroke="#2a2a2a" stroke-width="0.6" />
<line x1="67.3" y1="64.97" x2="66.3" y2="64.97" stroke="#2a2a2a" stroke-width="0.6" />
<line x1="67.3" y1="54.72" x2="66.3" y2="54.72" stroke="#2a2a2a" stroke-width="0.6" />
<line x1="67.3" y1="111.1" x2="65.5" y2="111.1" stroke="#2a2a2a" stroke-width="0.6" />
<line x1="67.3" y1="100.85" x2="65.5" y2="100.85" stroke="#2a2a2a" stroke-width="0.6" />
<line x1="67.3" y1="90.6" x2="65.5" y2="90.6" stroke="#2a2a2a" stroke-width="0.6" />
<line x1="67.3" y1="80.35" x2="65.5" y2="80.35" stroke="#2a2a2a" stroke-width="0.6" />
<line x1="67.3" y1="70.1" x2="65.5" y2="70.1" stroke="#2a2a2a" stroke-width="0.6" />
<line x1="67.3" y1="59.85" x2="65.5" y2="59.85" stroke="#2a2a2a" stroke-width="0.6" />
<line x1="67.3" y1="49.6" x2="65.5" y2="49.6" stroke="#2a2a2a" stroke-width="0.6" />
<text x="67.3" y="117.8" font-size="4.4" text-anchor="middle" fill="#000" >0</text>
<text x="79.94" y="117.8" font-size="4.4" text-anchor="middle" fill="#000" >20</text>
<text x="92.59" y="117.8" font-size="4.4" text-anchor="middle" fill="#000" >40</text>
<text x="105.23" y="117.8" font-size="4.4" text-anchor="middle" fill="#000" >60</text>
<text x="117.87" y="117.8" font-size="4.4" text-anchor="middle" fill="#000" >80</text>
<text x="130.51" y="117.8" font-size="4.4" text-anchor="middle" fill="#000" >100</text>
<text x="143.16" y="117.8" font-size="4.4" text-anchor="middle" fill="#000" >120</text>
<text x="155.8" y="117.8" font-size="4.4" text-anchor="middle" fill="#000" >140</text>
<text x="64.4" y="112.55" font-size="4.4" text-anchor="end" fill="#000" >0</text>
<text x="64.4" y="102.3" font-size="4.4" text-anchor="end" fill="#000" >2</text>
<text x="64.4" y="92.05" font-size="4.4" text-anchor="end" fill="#000" >4</text>
<text x="64.4" y="81.8" font-size="4.4" text-anchor="end" fill="#000" >6</text>
<text x="64.4" y="71.55" font-size="4.4" text-anchor="end" fill="#000" >8</text>
<text x="64.4" y="61.3" font-size="4.4" text-anchor="end" fill="#000" >10</text>
<text x="64.4" y="51.05" font-size="4.4" text-anchor="end" fill="#000" >12</text>
<polyline points="67.3,110.59 67.42,110.58 67.55,110.57 67.67,110.55 67.8,110.53 67.92,110.5 68.05,110.46 68.17,110.41 68.29,110.36 68.42,110.3 68.54,110.24 68.67,110.17 68.79,110.1 68.92,110.02 69.04,109.94 69.17,109.86 69.29,109.77 69.41,109.67 69.54,109.57 69.66,109.47 69.79,109.37 69.91,109.26 70.04,109.16 70.16,109.04 70.28,108.93 70.41,108.82 70.53,108.7 70.66,108.58 70.78,108.47 70.91,108.35 71.03,108.23 71.15,108.1 71.28,107.96 71.4,107.81 71.53,107.64 71.65,107.46 71.78,107.27 71.9,107.07 72.03,106.86 72.15,106.64 72.27,106.41 72.4,106.17 72.52,105.92 72.65,105.67 72.77,105.4 72.9,105.14 73.02,104.86 73.14,104.58 73.27,104.3 73.39,104.01 73.52,103.72 73.64,103.43 73.77,103.13 73.89,102.84 74.01,102.54 74.14,102.24 74.26,101.95 74.39,101.65 74.51,101.35 74.64,101.06 74.76,100.77 74.89,100.48 75.01,100.2 75.13,99.88 75.26,99.53 75.38,99.16 75.51,98.77 75.63,98.37 75.76,97.95 75.88,97.53 76,97.1 76.13,96.67 76.25,96.25 76.38,95.83 76.5,95.44 76.63,95.06 76.75,94.7 76.87,94.37 77,94.07 77.12,93.8 77.25,93.58 77.37,93.4 77.5,93.27 77.62,93.19 77.75,93.16 77.87,93.36 77.99,93.82 78.12,94.47 78.24,95.24 78.37,96.05 78.49,96.83 78.62,97.5 78.74,98.02 78.86,98.52 78.99,99.03 79.11,99.53 79.24,100.03 79.36,100.52 79.49,100.99 79.61,101.45 79.73,101.88 79.86,102.29 79.98,102.67 80.11,103.01 80.23,103.32 80.36,103.58 80.48,103.8 80.61,103.96 80.73,104.11 80.85,104.25 80.98,104.39 81.1,104.53 81.23,104.66 81.35,104.79 81.48,104.92 81.6,105.04 81.72,105.15 81.85,105.27 81.97,105.38 82.1,105.48 82.22,105.59 82.35,105.69 82.47,105.78 82.59,105.87 82.72,105.96 82.84,106.05 82.97,106.13 83.09,106.21 83.22,106.29 83.34,106.36 83.47,106.44 83.59,106.5 83.71,106.57 83.84,106.63 83.96,106.69 84.09,106.75 84.21,106.8 84.34,106.85 84.46,106.9 84.58,106.95 84.71,107 84.83,107.04 84.96,107.08 85.08,107.12 85.21,107.15 85.33,107.18 85.45,107.22 85.58,107.24 85.7,107.27 85.83,107.3 85.95,107.33 86.08,107.35 86.2,107.38 86.33,107.41 86.45,107.43 86.57,107.46 86.7,107.48 86.82,107.51 86.95,107.53 87.07,107.56 87.2,107.58 87.32,107.61 87.44,107.63 87.57,107.65 87.69,107.68 87.82,107.7 87.94,107.72 88.07,107.74 88.19,107.77 88.31,107.79 88.44,107.81 88.56,107.83 88.69,107.85 88.81,107.87 88.94,107.89 89.06,107.91 89.19,107.93 89.31,107.95 89.43,107.97 89.56,107.99 89.68,108.01 89.81,108.03 89.93,108.05 90.06,108.07 90.18,108.08 90.3,108.1 90.43,108.12 90.55,108.13 90.68,108.15 90.8,108.17 90.93,108.18 91.05,108.2 91.17,108.21 91.3,108.23 91.42,108.24 91.55,108.26 91.67,108.27 91.8,108.28 91.92,108.3 92.05,108.31 92.17,108.32 92.29,108.33 92.42,108.35 92.54,108.36 92.67,108.37 92.79,108.38 92.92,108.39 93.04,108.4 93.16,108.41 93.29,108.42 93.41,108.43 93.54,108.44 93.66,108.45 93.79,108.45 93.91,108.46 94.03,108.47 94.16,108.48 94.28,108.48 94.41,108.49 94.53,108.49 94.66,108.5 94.78,108.51 94.91,108.51 95.03,108.51 95.15,108.52 95.28,108.52 95.4,108.53 95.53,108.53 95.65,108.53 95.78,108.53 95.9,108.53 96.02,108.54 96.15,108.54 96.27,108.54 96.4,108.54 96.52,108.53 96.65,108.52 96.77,108.51 96.89,108.49 97.02,108.46 97.14,108.43 97.27,108.4 97.39,108.36 97.52,108.32 97.64,108.28 97.77,108.17 97.89,107.92 98.01,107.55 98.14,107.06 98.26,106.47 98.39,105.8 98.51,105.05 98.64,104.23 98.76,103.36 98.88,102.45 99.01,101.51 99.13,100.55 99.26,99.59 99.38,98.63 99.51,97.69 99.63,96.78 99.75,95.91 99.88,95.09 100,94.34 100.13,93.67 100.25,93.08 100.38,92.59 100.5,92.15 100.63,91.72 100.75,91.29 100.87,90.88 101,90.46 101.12,90.06 101.25,89.66 101.37,89.27 101.5,88.89 101.62,88.52 101.74,88.15 101.87,87.8 101.99,87.45 102.12,87.11 102.24,86.78 102.37,86.45 102.49,86.14 102.61,85.83 102.74,85.54 102.86,85.25 102.99,84.97 103.11,84.7 103.24,84.44 103.36,84.19 103.49,83.95 103.61,83.72 103.73,83.5 103.86,83.29 103.98,83.09 104.11,82.9 104.23,82.72 104.36,82.55 104.48,82.39 104.6,82.23 104.73,82.08 104.85,81.92 104.98,81.77 105.1,81.61 105.23,81.47 105.35,81.32 105.48,81.18 105.6,81.05 105.72,80.93 105.85,80.81 105.97,80.71 106.1,80.62 106.22,80.54 106.35,80.47 106.47,80.41 106.59,80.38 106.72,80.35 106.84,80.36 106.97,80.61 107.09,81.13 107.22,81.87 107.34,82.78 107.46,83.8 107.59,84.87 107.71,85.94 107.84,86.96 107.96,87.87 108.09,88.62 108.21,89.29 108.34,89.96 108.46,90.61 108.58,91.26 108.71,91.89 108.83,92.51 108.96,93.09 109.08,93.65 109.21,94.18 109.33,94.66 109.45,95.11 109.58,95.51 109.7,95.86 109.83,96.19 109.95,96.52 110.08,96.83 110.2,97.14 110.32,97.43 110.45,97.72 110.57,97.99 110.7,98.26 110.82,98.52 110.95,98.77 111.07,99.01 111.2,99.24 111.32,99.46 111.44,99.67 111.57,99.88 111.69,100.07 111.82,100.26 111.94,100.44 112.07,100.62 112.19,100.78 112.31,100.94 112.44,101.09 112.56,101.23 112.69,101.36 112.81,101.49 112.94,101.62 113.06,101.74 113.18,101.86 113.31,101.98 113.43,102.1 113.56,102.21 113.68,102.32 113.81,102.43 113.93,102.54 114.06,102.65 114.18,102.75 114.3,102.85 114.43,102.95 114.55,103.04 114.68,103.14 114.8,103.23 114.93,103.32 115.05,103.41 115.17,103.49 115.3,103.58 115.42,103.66 115.55,103.74 115.67,103.82 115.8,103.89 115.92,103.97 116.04,104.04 116.17,104.11 116.29,104.18 116.42,104.25 116.54,104.32 116.67,104.38 116.79,104.45 116.92,104.51 117.04,104.57 117.16,104.63 117.29,104.69 117.41,104.75 117.54,104.8 117.66,104.86 117.79,104.91 117.91,104.97 118.03,105.02 118.16,105.07 118.28,105.12 118.41,105.17 118.53,105.22 118.66,105.27 118.78,105.32 118.9,105.36 119.03,105.41 119.15,105.46 119.28,105.5 119.4,105.55 119.53,105.59 119.65,105.63 119.78,105.68 119.9,105.72 120.02,105.76 120.15,105.8 120.27,105.84 120.4,105.89 120.52,105.93 120.65,105.96 120.77,106 120.89,106.04 121.02,106.08 121.14,106.12 121.27,106.16 121.39,106.19 121.52,106.23 121.64,106.26 121.76,106.3 121.89,106.33 122.01,106.37 122.14,106.4 122.26,106.44 122.39,106.47 122.51,106.5 122.64,106.54 122.76,106.57 122.88,106.6 123.01,106.63 123.13,106.67 123.26,106.7 123.38,106.73 123.51,106.76 123.63,106.79 123.75,106.82 123.88,106.85 124,106.88 124.13,106.91 124.25,106.94 124.38,106.97 124.5,107 124.62,107.03 124.75,107.06 124.87,107.09 125,107.12 125.12,107.15 125.25,107.18 125.37,107.2 125.5,107.23 125.62,107.26 125.74,107.29 125.87,107.32 125.99,107.35 126.12,107.37 126.24,107.4 126.37,107.43 126.49,107.46 126.61,107.49 126.74,107.52 126.86,107.55 126.99,107.58 127.11,107.61 127.24,107.65 127.36,107.68 127.48,107.71 127.61,107.73 127.73,107.75 127.86,107.76 127.98,107.77 128.11,107.7 128.23,107.49 128.36,107.14 128.48,106.67 128.6,106.09 128.73,105.4 128.85,104.61 128.98,103.72 129.1,102.76 129.23,101.73 129.35,100.63 129.47,99.47 129.6,98.27 129.72,97.03 129.85,95.76 129.97,94.47 130.1,93.16 130.22,91.86 130.34,90.55 130.47,89.26 130.59,88 130.72,86.76 130.84,85.56 130.97,84.42 131.09,83.29 131.22,82.09 131.34,80.79 131.46,79.43 131.59,78.02 131.71,76.57 131.84,75.12 131.96,73.66 132.09,72.23 132.21,70.84 132.33,69.51 132.46,68.26 132.58,67.1 132.71,66.06 132.83,65.15 132.96,64.38 133.08,63.78 133.2,63.23 133.33,62.68 133.45,62.15 133.58,61.63 133.7,61.12 133.83,60.63 133.95,60.16 134.08,59.71 134.2,59.29 134.32,58.89 134.45,58.52 134.57,58.17 134.7,57.87 134.82,57.59 134.95,57.35 135.07,57.15 135.19,56.99 135.32,56.87 135.44,56.8 135.57,56.78 135.69,56.88 135.82,57.18 135.94,57.65 136.06,58.28 136.19,59.04 136.31,59.89 136.44,60.83 136.56,61.81 136.69,62.83 136.81,63.84 136.94,64.84 137.06,65.79 137.18,66.72 137.31,67.75 137.43,68.87 137.56,70.06 137.68,71.3 137.81,72.57 137.93,73.87 138.05,75.18 138.18,76.48 138.3,77.75 138.43,78.98 138.55,80.15 138.68,81.25 138.8,82.26 138.92,83.16 139.05,83.94 139.17,84.65 139.3,85.35 139.42,86.03 139.55,86.7 139.67,87.35 139.8,87.98 139.92,88.59 140.04,89.19 140.17,89.77 140.29,90.34 140.42,90.88 140.54,91.41 140.67,91.91 140.79,92.4 140.91,92.87 141.04,93.32 141.16,93.75 141.29,94.15 141.41,94.54 141.54,94.9 141.66,95.24 141.78,95.56 141.91,95.86 142.03,96.14 142.16,96.39 142.28,96.64 142.41,96.88 142.53,97.12 142.66,97.35 142.78,97.57 142.9,97.8 143.03,98.01 143.15,98.23 143.28,98.43 143.4,98.64 143.53,98.84 143.65,99.03 143.77,99.22 143.9,99.41 144.02,99.59 144.15,99.76 144.27,99.94 144.4,100.11 144.52,100.27 144.64,100.44 144.77,100.6 144.89,100.75 145.02,100.9 145.14,101.05 145.27,101.2 145.39,101.34 145.52,101.48 145.64,101.62 145.76,101.75 145.89,101.88 146.01,102.01 146.14,102.13 146.26,102.26 146.39,102.38 146.51,102.49 146.63,102.61 146.76,102.72 146.88,102.84 147.01,102.95 147.13,103.05 147.26,103.16 147.38,103.26 147.5,103.37 147.63,103.47 147.75,103.57 147.88,103.67 148,103.76 148.13,103.86 148.25,103.95 148.38,104.05 148.5,104.14 148.62,104.23 148.75,104.33 148.87,104.42 149,104.51 149.12,104.6 149.25,104.69 149.37,104.78 149.49,104.87 149.62,104.96 149.74,105.04 149.87,105.13 149.99,105.21 150.12,105.3 150.24,105.38 150.36,105.46 150.49,105.54 150.61,105.62 150.74,105.7 150.86,105.78 150.99,105.85 151.11,105.93 151.24,106 151.36,106.07 151.48,106.14 151.61,106.21 151.73,106.27 151.86,106.34 151.98,106.4 152.11,106.46 152.23,106.52 152.35,106.58 152.48,106.64 152.6,106.69 152.73,106.74 152.85,106.79 152.98,106.84 153.1,106.89 153.22,106.93 153.35,106.98 153.47,107.02 153.6,107.05 153.72,107.09 153.85,107.12 153.97,107.15 154.1,107.18 154.22,107.2" fill="none" stroke="#000" stroke-width="1.6" stroke-linejoin="round" stroke-linecap="round" />
<line x1="69.8" y1="50" x2="81.6" y2="50" stroke="#8a8a8a" stroke-width="0.8" />
<circle cx="76.1" cy="50" r="0.7" fill="#333"/>
<text x="83.7" y="51.6" font-size="6" text-anchor="start" fill="#000" >ZnO</text>
<text x="112.9" y="123.3" font-size="6.26" text-anchor="middle" fill="#000" >Time (min)</text>
<text x="0" y="0" font-size="6.5" text-anchor="middle" style="stroke:none;fill:#1a1a1a" transform="translate(58.75 77.9) rotate(-90) scale(1 1.0)">Resistance (MOhm)</text>
<text x="78.5" y="89.2" font-size="4.7" text-anchor="middle" fill="#000" >100 ppb</text>
<text x="106.1" y="76.7" font-size="4.7" text-anchor="middle" fill="#000" >300 ppb</text>
<text x="135.7" y="52.4" font-size="4.7" text-anchor="middle" fill="#000" >500 ppb</text>
<line x1="319.1" y1="14.75" x2="536.6" y2="14.75" stroke="#505050" stroke-width="1.4" />
<line x1="536.6" y1="14.75" x2="536.6" y2="189.9" stroke="#505050" stroke-width="1.4" />
<line x1="319.1" y1="14.1" x2="319.1" y2="190.55" stroke="#2a2a2a" stroke-width="1.3" />
<line x1="318.45" y1="189.9" x2="537.3" y2="189.9" stroke="#2a2a2a" stroke-width="1.3" />
<line x1="355.35" y1="189.9" x2="355.35" y2="191.7" stroke="#2a2a2a" stroke-width="1.0" />
<line x1="391.6" y1="189.9" x2="391.6" y2="191.7" stroke="#2a2a2a" stroke-width="1.0" />
<line x1="427.85" y1="189.9" x2="427.85" y2="191.7" stroke="#2a2a2a" stroke-width="1.0" />
<line x1="464.1" y1="189.9" x2="464.1" y2="191.7" stroke="#2a2a2a" stroke-width="1.0" />
<line x1="500.35" y1="189.9" x2="500.35" y2="191.7" stroke="#2a2a2a" stroke-width="1.0" />
<line x1="337.23" y1="189.9" x2="337.23" y2="192.9" stroke="#2a2a2a" stroke-width="1.0" />
<line x1="373.48" y1="189.9" x2="373.48" y2="192.9" stroke="#2a2a2a" stroke-width="1.0" />
<line x1="409.73" y1="189.9" x2="409.73" y2="192.9" stroke="#2a2a2a" stroke-width="1.0" />
<line x1="445.98" y1="189.9" x2="445.98" y2="192.9" stroke="#2a2a2a" stroke-width="1.0" />
<line x1="482.23" y1="189.9" x2="482.23" y2="192.9" stroke="#2a2a2a" stroke-width="1.0" />
<line x1="518.48" y1="189.9" x2="518.48" y2="192.9" stroke="#2a2a2a" stroke-width="1.0" />
<line x1="319.1" y1="162.95" x2="317.3" y2="162.95" stroke="#2a2a2a" stroke-width="1.0" />
<line x1="319.1" y1="136.01" x2="317.3" y2="136.01" stroke="#2a2a2a" stroke-width="1.0" />
<line x1="319.1" y1="109.06" x2="317.3" y2="109.06" stroke="#2a2a2a" stroke-width="1.0" />
<line x1="319.1" y1="82.12" x2="317.3" y2="82.12" stroke="#2a2a2a" stroke-width="1.0" />
<line x1="319.1" y1="55.17" x2="317.3" y2="55.17" stroke="#2a2a2a" stroke-width="1.0" />
<line x1="319.1" y1="28.22" x2="317.3" y2="28.22" stroke="#2a2a2a" stroke-width="1.0" />
<line x1="319.1" y1="176.43" x2="316.1" y2="176.43" stroke="#2a2a2a" stroke-width="1.0" />
<line x1="319.1" y1="149.48" x2="316.1" y2="149.48" stroke="#2a2a2a" stroke-width="1.0" />
<line x1="319.1" y1="122.53" x2="316.1" y2="122.53" stroke="#2a2a2a" stroke-width="1.0" />
<line x1="319.1" y1="95.59" x2="316.1" y2="95.59" stroke="#2a2a2a" stroke-width="1.0" />
<line x1="319.1" y1="68.64" x2="316.1" y2="68.64" stroke="#2a2a2a" stroke-width="1.0" />
<line x1="319.1" y1="41.7" x2="316.1" y2="41.7" stroke="#2a2a2a" stroke-width="1.0" />
<line x1="319.1" y1="14.75" x2="316.1" y2="14.75" stroke="#2a2a2a" stroke-width="1.0" />
<text x="337.23" y="203.8" font-size="9.4" text-anchor="middle" fill="#000" >0</text>
<text x="373.48" y="203.8" font-size="9.4" text-anchor="middle" fill="#000" >1</text>
<text x="409.73" y="203.8" font-size="9.4" text-anchor="middle" fill="#000" >2</text>
<text x="445.98" y="203.8" font-size="9.4" text-anchor="middle" fill="#000" >3</text>
<text x="482.23" y="203.8" font-size="9.4" text-anchor="middle" fill="#000" >4</text>
<text x="518.48" y="203.8" font-size="9.4" text-anchor="middle" fill="#000" >5</text>
<text x="313.2" y="179.53" font-size="9.4" text-anchor="end" fill="#000" >0</text>
<text x="313.2" y="152.58" font-size="9.4" text-anchor="end" fill="#000" >90</text>
<text x="313.2" y="125.64" font-size="9.4" text-anchor="end" fill="#000" >180</text>
<text x="313.2" y="98.69" font-size="9.4" text-anchor="end" fill="#000" >270</text>
<text x="313.2" y="71.74" font-size="9.4" text-anchor="end" fill="#000" >360</text>
<text x="313.2" y="44.8" font-size="9.4" text-anchor="end" fill="#000" >450</text>
<text x="313.2" y="17.85" font-size="9.4" text-anchor="end" fill="#000" >540</text>
<polyline points="340.8,173.1 518.6,30.3" fill="none" stroke="#f03a3a" stroke-width="1.3" stroke-linejoin="round" stroke-linecap="round" />
<circle cx="340.8" cy="172.5" r="1.5" fill="#000"/>
<circle cx="348" cy="169.9" r="1.5" fill="#000"/>
<circle cx="355.3" cy="165.1" r="1.5" fill="#000"/>
<circle cx="366.3" cy="159.3" r="1.5" fill="#000"/>
<circle cx="373.3" cy="138.7" r="1.5" fill="#000"/>
<circle cx="446" cy="78.7" r="1.5" fill="#000"/>
<circle cx="518.6" cy="36.6" r="1.5" fill="#000"/>
<circle cx="334.7" cy="26.9" r="1.5" fill="#000"/>
<text x="345.4" y="30.1" font-size="9" text-anchor="start" fill="#000" >15 mmol</text>
<line x1="326.2" y1="41.5" x2="342.6" y2="41.5" stroke="#f03a3a" stroke-width="1.3" />
<text x="348.1" y="45.3" font-size="9.1" text-anchor="start" fill="#000" >Fitted curve</text>
<text x="428.3" y="216" font-size="9.9" text-anchor="middle" fill="#000" >Gas concentration (ppm)</text>
<text x="0" y="0" font-size="13.35" text-anchor="middle" transform="translate(293.21 102.3) rotate(-90) scale(1 1.0)">Response (Rg / Ra)</text>
<text x="276.8" y="18" font-size="15.5" text-anchor="start" fill="#000" >(b)</text>
<line x1="47.45" y1="235.9" x2="265" y2="235.9" stroke="#505050" stroke-width="1.4" />
<line x1="265" y1="235.9" x2="265" y2="411.5" stroke="#505050" stroke-width="1.4" />
<line x1="47.45" y1="235.25" x2="47.45" y2="412.15" stroke="#2a2a2a" stroke-width="1.3" />
<line x1="46.8" y1="411.5" x2="265.7" y2="411.5" stroke="#2a2a2a" stroke-width="1.3" />
<line x1="61.05" y1="411.5" x2="61.05" y2="413.3" stroke="#2a2a2a" stroke-width="1.0" />
<line x1="74.64" y1="411.5" x2="74.64" y2="413.3" stroke="#2a2a2a" stroke-width="1.0" />
<line x1="88.24" y1="411.5" x2="88.24" y2="413.3" stroke="#2a2a2a" stroke-width="1.0" />
<line x1="101.84" y1="411.5" x2="101.84" y2="413.3" stroke="#2a2a2a" stroke-width="1.0" />
<line x1="115.43" y1="411.5" x2="115.43" y2="413.3" stroke="#2a2a2a" stroke-width="1.0" />
<line x1="129.03" y1="411.5" x2="129.03" y2="413.3" stroke="#2a2a2a" stroke-width="1.0" />
<line x1="142.63" y1="411.5" x2="142.63" y2="413.3" stroke="#2a2a2a" stroke-width="1.0" />
<line x1="156.23" y1="411.5" x2="156.23" y2="413.3" stroke="#2a2a2a" stroke-width="1.0" />
<line x1="169.82" y1="411.5" x2="169.82" y2="413.3" stroke="#2a2a2a" stroke-width="1.0" />
<line x1="183.42" y1="411.5" x2="183.42" y2="413.3" stroke="#2a2a2a" stroke-width="1.0" />
<line x1="197.02" y1="411.5" x2="197.02" y2="413.3" stroke="#2a2a2a" stroke-width="1.0" />
<line x1="210.61" y1="411.5" x2="210.61" y2="413.3" stroke="#2a2a2a" stroke-width="1.0" />
<line x1="224.21" y1="411.5" x2="224.21" y2="413.3" stroke="#2a2a2a" stroke-width="1.0" />
<line x1="237.81" y1="411.5" x2="237.81" y2="413.3" stroke="#2a2a2a" stroke-width="1.0" />
<line x1="251.4" y1="411.5" x2="251.4" y2="413.3" stroke="#2a2a2a" stroke-width="1.0" />
<line x1="47.45" y1="411.5" x2="47.45" y2="414.5" stroke="#2a2a2a" stroke-width="1.0" />
<line x1="101.84" y1="411.5" x2="101.84" y2="414.5" stroke="#2a2a2a" stroke-width="1.0" />
<line x1="156.23" y1="411.5" x2="156.23" y2="414.5" stroke="#2a2a2a" stroke-width="1.0" />
<line x1="210.61" y1="411.5" x2="210.61" y2="414.5" stroke="#2a2a2a" stroke-width="1.0" />
<line x1="265" y1="411.5" x2="265" y2="414.5" stroke="#2a2a2a" stroke-width="1.0" />
<line x1="47.45" y1="385.75" x2="45.65" y2="385.75" stroke="#2a2a2a" stroke-width="1.0" />
<line x1="47.45" y1="352.45" x2="45.65" y2="352.45" stroke="#2a2a2a" stroke-width="1.0" />
<line x1="47.45" y1="319.15" x2="45.65" y2="319.15" stroke="#2a2a2a" stroke-width="1.0" />
<line x1="47.45" y1="285.85" x2="45.65" y2="285.85" stroke="#2a2a2a" stroke-width="1.0" />
<line x1="47.45" y1="252.55" x2="45.65" y2="252.55" stroke="#2a2a2a" stroke-width="1.0" />
<line x1="47.45" y1="402.4" x2="44.45" y2="402.4" stroke="#2a2a2a" stroke-width="1.0" />
<line x1="47.45" y1="369.1" x2="44.45" y2="369.1" stroke="#2a2a2a" stroke-width="1.0" />
<line x1="47.45" y1="335.8" x2="44.45" y2="335.8" stroke="#2a2a2a" stroke-width="1.0" />
<line x1="47.45" y1="302.5" x2="44.45" y2="302.5" stroke="#2a2a2a" stroke-width="1.0" />
<line x1="47.45" y1="269.2" x2="44.45" y2="269.2" stroke="#2a2a2a" stroke-width="1.0" />
<line x1="47.45" y1="235.9" x2="44.45" y2="235.9" stroke="#2a2a2a" stroke-width="1.0" />
<text x="47.45" y="425.8" font-size="9.4" text-anchor="middle" fill="#000" >0</text>
<text x="101.84" y="425.8" font-size="9.4" text-anchor="middle" fill="#000" >8</text>
<text x="156.23" y="425.8" font-size="9.4" text-anchor="middle" fill="#000" >16</text>
<text x="210.61" y="425.8" font-size="9.4" text-anchor="middle" fill="#000" >24</text>
<text x="265" y="425.8" font-size="9.4" text-anchor="middle" fill="#000" >32</text>
<text x="41.4" y="405.5" font-size="9.4" text-anchor="end" fill="#000" >0</text>
<text x="41.4" y="372.2" font-size="9.4" text-anchor="end" fill="#000" >8</text>
<text x="41.4" y="338.9" font-size="9.4" text-anchor="end" fill="#000" >16</text>
<text x="41.4" y="305.6" font-size="9.4" text-anchor="end" fill="#000" >24</text>
<text x="41.4" y="272.3" font-size="9.4" text-anchor="end" fill="#000" >32</text>
<text x="41.4" y="239" font-size="9.4" text-anchor="end" fill="#000" >40</text>
<polyline points="47.45,401.15 48.5,401.15 49.55,401.15 50.6,401.14 51.65,401.14 52.7,401.13 53.75,401.12 54.8,401.11 55.85,401.1 56.9,401.08 57.95,401.06 59,400.96 60.05,400.78 61.1,400.51 62.15,399.85 63.2,398.72 64.25,396.65 65.3,394.07 66.35,391.3 67.4,388.29 68.45,385.25 69.5,382.15 70.55,378.97 71.6,375.72 72.65,372.4 73.7,369 74.75,365.48 75.8,361.87 76.85,358.2 77.9,354.51 78.95,350.83 80,347.08 81.05,343.27 82.1,339.45 83.15,335.7 84.2,332.09 85.25,328.68 86.3,325.46 87.35,322.36 88.4,319.31 89.45,316.27 90.5,313.2 91.55,310.13 92.6,307.09 93.64,304.08 94.69,301.14 95.74,298.26 96.79,295.39 97.84,292.57 98.89,289.81 99.94,287.13 100.99,284.57 102.04,282.09 103.09,279.62 104.14,277.2 105.19,274.88 106.24,272.7 107.29,270.69 108.34,268.9 109.39,267.22 110.44,265.61 111.49,264.09 112.54,262.7 113.59,261.48 114.64,260.46 115.69,259.65 116.74,258.9 117.79,258.2 118.84,257.56 119.89,257 120.94,256.53 121.99,256.16 123.04,255.91 124.09,255.76 125.14,255.62 126.19,255.5 127.24,255.4 128.29,255.32 129.34,255.27 130.39,255.26 130.39,255.46 130.74,260.25 131.09,264.81 131.44,269.16 131.79,273.31 132.13,277.27 132.48,281.06 132.83,284.67 133.18,288.13 133.53,291.43 133.88,294.58 134.23,297.6 134.57,300.48 134.92,303.25 135.27,305.89 135.62,308.42 135.97,310.85 136.32,313.17 136.67,315.4 137.02,317.54 137.36,319.58 137.71,321.55 138.06,323.44 138.41,325.26 138.76,327 139.11,328.67 139.46,330.29 139.8,331.84 140.15,333.33 140.5,334.76 140.85,336.15 141.2,337.48 141.55,338.77 141.9,340.01 142.24,341.2 142.59,342.36 142.94,343.47 143.29,344.55 143.64,345.59 143.99,346.59 145.52,350.64 147.05,354.17 148.58,357.27 150.12,360 151.65,362.44 153.18,364.63 154.71,366.6 156.24,368.39 157.77,370.02 159.31,371.52 160.84,372.89 162.37,374.16 163.9,375.34 165.43,376.43 166.96,377.45 168.5,378.4 170.03,379.29 171.56,380.12 173.09,380.9 174.62,381.64 176.16,382.33 177.69,382.98 179.22,383.6 180.75,384.18 182.28,384.73 183.81,385.26 185.35,385.75 186.88,386.22 188.41,386.67 189.94,387.09 191.47,387.5 193.01,387.88 194.54,388.25 196.07,388.6 197.6,388.93 199.13,389.25 200.66,389.56 202.2,389.85 203.73,390.13 205.26,390.4 206.79,390.66 208.32,390.9 209.86,391.14 211.39,391.37 212.92,391.59 214.45,391.8 215.98,392.01 217.51,392.2 219.05,392.4 220.58,392.58 222.11,392.76 223.64,392.93 225.17,393.09 226.71,393.26 228.24,393.41 229.77,393.56 231.3,393.71 232.83,393.85 234.36,393.99 235.9,394.12 237.43,394.26 238.96,394.38 240.49,394.51 242.02,394.63 243.55,394.74 245.09,394.86 246.62,394.97 248.15,395.08 249.68,395.18 251.21,395.28 252.75,395.39 254.28,395.48 255.81,395.58 257.34,395.67 258.87,395.76 260.4,395.85 261.94,395.94 263.47,396.03 265,396.11" fill="none" stroke="#111" stroke-width="1.15" stroke-linejoin="round" stroke-linecap="round" />
<line x1="55.2" y1="252.8" x2="55.2" y2="406.9" stroke="#ff3030" stroke-width="0.9" stroke-dasharray="1 1"/>
<line x1="108.3" y1="252.8" x2="108.3" y2="406.9" stroke="#ff3030" stroke-width="0.9" stroke-dasharray="1 1"/>
<line x1="131.5" y1="252.8" x2="131.5" y2="406.9" stroke="#3a3aff" stroke-width="0.9" stroke-dasharray="1 1"/>
<line x1="181.8" y1="252.8" x2="181.8" y2="406.9" stroke="#3a3aff" stroke-width="0.9" stroke-dasharray="1 1"/>
<line x1="58.7" y1="264" x2="66.9" y2="264" stroke="#ff3030" stroke-width="1.3" />
<polygon points="56.2,264 61.7,262.1 61.7,265.9" fill="#ff3030"/>
<line x1="105.1" y1="264" x2="96.5" y2="264" stroke="#ff3030" stroke-width="1.3" />
<polygon points="107.6,264 102.1,262.1 102.1,265.9" fill="#ff3030"/>
<line x1="135.1" y1="264" x2="140.9" y2="264" stroke="#3a3aff" stroke-width="1.3" />
<polygon points="132.6,264 138.1,262.1 138.1,265.9" fill="#3a3aff"/>
<line x1="178.5" y1="264" x2="172.7" y2="264" stroke="#3a3aff" stroke-width="1.3" />
<polygon points="181,264 175.5,262.1 175.5,265.9" fill="#3a3aff"/>
<text x="81.1" y="267.3" font-size="8.3" text-anchor="middle" fill="#000" >8 min</text>
<text x="156.8" y="267.3" font-size="8.3" text-anchor="middle" fill="#000" >7.5 min</text>
<line x1="199.9" y1="248.5" x2="217.7" y2="248.5" stroke="#777" stroke-width="0.6" />
<circle cx="208.8" cy="248.5" r="0.8" fill="#000"/>
<text x="220.9" y="252.5" font-size="9.85" text-anchor="start" fill="#000" >15 mmol</text>
<text x="155.6" y="439.9" font-size="12.2" text-anchor="middle" fill="#000" >Time (min)</text>
<text x="0" y="0" font-size="12.2" text-anchor="middle" transform="translate(25.52 323.4) rotate(-90) scale(1 0.95)">Resistance (MOhm)</text>
<text x="7.2" y="240" font-size="15.5" text-anchor="start" fill="#000" >(c)</text>
<line x1="319.1" y1="235.9" x2="536.5" y2="235.9" stroke="#505050" stroke-width="1.4" />
<line x1="536.5" y1="235.9" x2="536.5" y2="411.3" stroke="#505050" stroke-width="1.4" />
<line x1="319.1" y1="235.25" x2="319.1" y2="411.95" stroke="#2a2a2a" stroke-width="1.3" />
<line x1="318.45" y1="411.3" x2="537.2" y2="411.3" stroke="#2a2a2a" stroke-width="1.3" />
<line x1="334.63" y1="411.3" x2="334.63" y2="413.1" stroke="#2a2a2a" stroke-width="1.0" />
<line x1="365.69" y1="411.3" x2="365.69" y2="413.1" stroke="#2a2a2a" stroke-width="1.0" />
<line x1="396.74" y1="411.3" x2="396.74" y2="413.1" stroke="#2a2a2a" stroke-width="1.0" />
<line x1="427.8" y1="411.3" x2="427.8" y2="413.1" stroke="#2a2a2a" stroke-width="1.0" />
<line x1="458.86" y1="411.3" x2="458.86" y2="413.1" stroke="#2a2a2a" stroke-width="1.0" />
<line x1="489.91" y1="411.3" x2="489.91" y2="413.1" stroke="#2a2a2a" stroke-width="1.0" />
<line x1="520.97" y1="411.3" x2="520.97" y2="413.1" stroke="#2a2a2a" stroke-width="1.0" />
<line x1="319.1" y1="411.3" x2="319.1" y2="414.3" stroke="#2a2a2a" stroke-width="1.0" />
<line x1="350.16" y1="411.3" x2="350.16" y2="414.3" stroke="#2a2a2a" stroke-width="1.0" />
<line x1="381.21" y1="411.3" x2="381.21" y2="414.3" stroke="#2a2a2a" stroke-width="1.0" />
<line x1="412.27" y1="411.3" x2="412.27" y2="414.3" stroke="#2a2a2a" stroke-width="1.0" />
<line x1="443.33" y1="411.3" x2="443.33" y2="414.3" stroke="#2a2a2a" stroke-width="1.0" />
<line x1="474.39" y1="411.3" x2="474.39" y2="414.3" stroke="#2a2a2a" stroke-width="1.0" />
<line x1="505.44" y1="411.3" x2="505.44" y2="414.3" stroke="#2a2a2a" stroke-width="1.0" />
<line x1="536.5" y1="411.3" x2="536.5" y2="414.3" stroke="#2a2a2a" stroke-width="1.0" />
<line x1="319.1" y1="396.21" x2="317.3" y2="396.21" stroke="#2a2a2a" stroke-width="1.0" />
<line x1="319.1" y1="374.84" x2="317.3" y2="374.84" stroke="#2a2a2a" stroke-width="1.0" />
<line x1="319.1" y1="353.46" x2="317.3" y2="353.46" stroke="#2a2a2a" stroke-width="1.0" />
<line x1="319.1" y1="332.09" x2="317.3" y2="332.09" stroke="#2a2a2a" stroke-width="1.0" />
<line x1="319.1" y1="310.71" x2="317.3" y2="310.71" stroke="#2a2a2a" stroke-width="1.0" />
<line x1="319.1" y1="289.34" x2="317.3" y2="289.34" stroke="#2a2a2a" stroke-width="1.0" />
<line x1="319.1" y1="267.96" x2="317.3" y2="267.96" stroke="#2a2a2a" stroke-width="1.0" />
<line x1="319.1" y1="246.59" x2="317.3" y2="246.59" stroke="#2a2a2a" stroke-width="1.0" />
<line x1="319.1" y1="406.9" x2="316.1" y2="406.9" stroke="#2a2a2a" stroke-width="1.0" />
<line x1="319.1" y1="385.52" x2="316.1" y2="385.52" stroke="#2a2a2a" stroke-width="1.0" />
<line x1="319.1" y1="364.15" x2="316.1" y2="364.15" stroke="#2a2a2a" stroke-width="1.0" />
<line x1="319.1" y1="342.77" x2="316.1" y2="342.77" stroke="#2a2a2a" stroke-width="1.0" />
<line x1="319.1" y1="321.4" x2="316.1" y2="321.4" stroke="#2a2a2a" stroke-width="1.0" />
<line x1="319.1" y1="300.02" x2="316.1" y2="300.02" stroke="#2a2a2a" stroke-width="1.0" />
<line x1="319.1" y1="278.65" x2="316.1" y2="278.65" stroke="#2a2a2a" stroke-width="1.0" />
<line x1="319.1" y1="257.27" x2="316.1" y2="257.27" stroke="#2a2a2a" stroke-width="1.0" />
<line x1="319.1" y1="235.9" x2="316.1" y2="235.9" stroke="#2a2a2a" stroke-width="1.0" />
<text x="319.1" y="425.3" font-size="9.4" text-anchor="middle" fill="#000" >0</text>
<text x="350.16" y="425.3" font-size="9.4" text-anchor="middle" fill="#000" >30</text>
<text x="381.21" y="425.3" font-size="9.4" text-anchor="middle" fill="#000" >60</text>
<text x="412.27" y="425.3" font-size="9.4" text-anchor="middle" fill="#000" >90</text>
<text x="443.33" y="425.3" font-size="9.4" text-anchor="middle" fill="#000" >120</text>
<text x="474.39" y="425.3" font-size="9.4" text-anchor="middle" fill="#000" >150</text>
<text x="505.44" y="425.3" font-size="9.4" text-anchor="middle" fill="#000" >180</text>
<text x="536.5" y="425.3" font-size="9.4" text-anchor="middle" fill="#000" >210</text>
<text x="313.2" y="410" font-size="9.4" text-anchor="end" fill="#000" >0</text>
<text x="313.2" y="388.63" font-size="9.4" text-anchor="end" fill="#000" >5</text>
<text x="313.2" y="367.25" font-size="9.4" text-anchor="end" fill="#000" >10</text>
<text x="313.2" y="345.88" font-size="9.4" text-anchor="end" fill="#000" >15</text>
<text x="313.2" y="324.5" font-size="9.4" text-anchor="end" fill="#000" >20</text>
<text x="313.2" y="303.13" font-size="9.4" text-anchor="end" fill="#000" >25</text>
<text x="313.2" y="281.75" font-size="9.4" text-anchor="end" fill="#000" >30</text>
<text x="313.2" y="260.38" font-size="9.4" text-anchor="end" fill="#000" >35</text>
<text x="313.2" y="239" font-size="9.4" text-anchor="end" fill="#000" >40</text>
<polyline points="319.1,405.62 320.5,404.33 320.64,403.87 320.79,403.06 320.93,401.89 321.08,399.99 321.22,397.89 321.37,395.66 321.52,393.25 321.66,390.78 321.81,388.29 321.95,385.75 322.1,383.17 322.24,380.54 322.39,377.86 322.53,375.14 322.68,372.36 322.82,369.51 322.97,366.59 323.12,363.61 323.26,360.61 323.41,357.6 323.55,354.6 323.7,351.57 323.84,348.48 323.99,345.36 324.13,342.25 324.28,339.18 324.42,336.18 324.57,333.3 324.72,330.56 324.86,327.93 325.01,325.38 325.15,322.89 325.3,320.41 325.44,317.93 325.59,315.42 325.73,312.91 325.88,310.42 326.02,307.95 326.17,305.5 326.32,303.1 326.46,300.73 326.61,298.16 326.75,295.62 326.9,293.11 327.04,290.66 327.19,288.28 327.33,286 327.48,283.78 327.62,281.56 327.77,279.38 327.92,277.26 328.06,275.23 328.21,273.32 328.35,271.55 328.5,269.96 328.64,268.46 328.79,267 328.93,265.6 329.08,264.31 329.23,263.12 329.37,262.08 329.52,261.21 329.66,260.49 329.81,259.82 329.95,259.18 330.1,258.59 330.24,258.05 330.39,257.58 330.53,257.19 330.68,256.88 330.83,256.67 330.97,256.53 331.12,256.4 331.26,256.29 331.41,256.19 331.55,256.11 331.7,256.04 331.84,256.01 331.99,255.99 331.99,255.99 332.06,262.53 332.13,268.66 332.2,274.42 332.27,279.83 332.35,284.91 332.42,289.69 332.49,294.19 332.56,298.42 332.63,302.41 332.7,306.17 332.77,309.71 332.85,313.06 332.92,316.22 332.99,319.21 333.06,322.03 333.13,324.7 333.2,327.23 333.27,329.63 333.35,331.91 333.42,334.06 333.49,336.11 333.56,338.06 333.63,339.92 333.7,341.68 333.77,343.36 333.85,344.96 333.92,346.49 333.99,347.95 334.06,349.34 334.43,355.61 334.79,360.69 335.16,364.89 335.52,368.41 335.89,371.41 336.26,374.01 336.62,376.27 336.99,378.27 337.36,380.05 337.72,381.64 338.09,383.07 338.45,384.36 338.82,385.54 339.19,386.61 339.55,387.59 339.92,388.48 340.29,389.3 340.65,390.06 341.02,390.76 341.38,391.41 341.75,392 342.12,392.56 342.48,393.08 342.85,393.56 343.22,394.01 343.58,394.44 343.95,394.83 344.31,395.21 344.68,395.56 345.05,395.89 345.41,396.2 345.78,396.5 346.15,396.78 346.51,397.04 346.88,397.3 347.24,397.54 347.61,397.77 347.98,397.99 348.34,398.2 348.71,398.4 349.08,398.59 349.44,398.78 349.81,398.96 350.17,399.13 350.54,399.29 350.91,399.45 351.27,399.6 351.64,399.75 352.01,399.89 352.37,400.03 352.74,400.16 353.1,400.29 353.47,400.41 353.84,400.53 354.2,400.64 354.57,400.76 354.94,400.86 355.3,400.97 355.67,401.07 356.04,401.17 356.4,401.27 356.77,401.36 357.13,401.45 357.5,401.53 357.87,401.62 358.23,401.7 358.6,401.78 358.97,401.86 359.33,401.93 359.7,402.01 360.06,402.08 360.43,402.15 360.8,402.21 361.16,402.28 361.53,402.34 361.9,402.4 362.26,402.46 362.63,402.52 362.99,402.58 362.99,402.62 363.13,402.1 363.27,401.18 363.41,399.7 363.55,397.5 363.7,395.2 363.84,392.66 363.98,390 364.12,387.32 364.26,384.58 364.4,381.79 364.54,378.95 364.68,376.04 364.82,373.08 364.96,370.05 365.1,366.92 365.24,363.72 365.38,360.49 365.52,357.24 365.66,354 365.8,350.72 365.94,347.37 366.08,344 366.22,340.66 366.36,337.38 366.5,334.22 366.64,331.23 366.78,328.37 366.92,325.62 367.06,322.93 367.2,320.26 367.34,317.57 367.48,314.86 367.62,312.16 367.76,309.48 367.9,306.83 368.04,304.23 368.18,301.71 368.32,299.44 368.46,297.2 368.6,294.98 368.74,292.8 368.88,290.68 369.02,288.62 369.16,286.63 369.3,284.68 369.44,282.73 369.58,280.81 369.72,278.94 369.86,277.14 370,275.44 370.15,273.84 370.29,272.38 370.43,271.04 370.57,269.72 370.71,268.45 370.85,267.24 370.99,266.11 371.13,265.08 371.27,264.15 371.41,263.36 371.55,262.7 371.69,262.1 371.83,261.53 371.97,260.98 372.11,260.48 372.25,260.02 372.39,259.62 372.53,259.28 372.67,259.01 372.81,258.81 372.95,258.68 373.09,258.57 373.23,258.46 373.37,258.37 373.51,258.29 373.65,258.22 373.79,258.17 373.93,258.14 374.07,258.13 374.07,258.13 374.14,263.75 374.21,269.08 374.29,274.11 374.36,278.88 374.43,283.4 374.5,287.68 374.57,291.74 374.64,295.59 374.71,299.24 374.79,302.71 374.86,306 374.93,309.13 375,312.1 375.07,314.93 375.14,317.62 375.21,320.18 375.28,322.63 375.36,324.95 375.43,327.17 375.5,329.29 375.57,331.31 375.64,333.24 375.71,335.08 375.78,336.84 375.86,338.53 375.93,340.14 376,341.69 376.07,343.17 376.14,344.59 376.5,350.92 376.86,356.14 377.22,360.49 377.58,364.18 377.94,367.35 378.3,370.1 378.66,372.51 379.01,374.64 379.37,376.54 379.73,378.25 380.09,379.79 380.45,381.19 380.81,382.47 381.17,383.64 381.53,384.72 381.89,385.7 382.25,386.62 382.6,387.46 382.96,388.24 383.32,388.97 383.68,389.65 384.04,390.28 384.4,390.87 384.76,391.42 385.12,391.94 385.48,392.42 385.84,392.88 386.2,393.31 386.55,393.71 386.91,394.09 387.27,394.45 387.63,394.8 387.99,395.12 388.35,395.43 388.71,395.72 389.07,396 389.43,396.26 389.79,396.51 390.14,396.76 390.5,396.99 390.86,397.21 391.22,397.42 391.58,397.62 391.94,397.82 392.3,398 392.66,398.18 393.02,398.36 393.38,398.52 393.74,398.69 394.09,398.84 394.45,398.99 394.81,399.14 395.17,399.28 395.53,399.41 395.89,399.55 396.25,399.67 396.61,399.8 396.97,399.92 397.33,400.03 397.69,400.15 398.04,400.26 398.4,400.36 398.76,400.47 399.12,400.57 399.48,400.66 399.84,400.76 400.2,400.85 400.56,400.94 400.92,401.03 401.28,401.11 401.63,401.2 401.99,401.28 402.35,401.36 402.71,401.43 403.07,401.51 403.43,401.58 403.79,401.65 404.15,401.72 404.51,401.79 404.51,402.62 404.67,401.94 404.83,400.71 404.99,398.43 405.15,395.65 405.31,392.62 405.47,389.37 405.64,386.09 405.8,382.73 405.96,379.29 406.12,375.76 406.28,372.16 406.44,368.45 406.6,364.62 406.76,360.7 406.92,356.73 407.09,352.76 407.25,348.77 407.41,344.68 407.57,340.57 407.73,336.51 407.89,332.58 408.05,328.86 408.21,325.36 408.38,322.01 408.54,318.73 408.7,315.46 408.86,312.15 409.02,308.85 409.18,305.57 409.34,302.34 409.5,299.19 409.66,296.62 409.83,294.54 409.99,292.47 410.15,290.43 410.31,288.42 410.47,286.45 410.63,284.54 410.79,282.68 410.95,280.88 411.12,279.07 411.28,277.28 411.44,275.52 411.6,273.8 411.76,272.14 411.92,270.55 412.08,269.05 412.24,267.65 412.41,266.37 412.57,265.14 412.73,263.94 412.89,262.78 413.05,261.66 413.21,260.61 413.37,259.64 413.53,258.75 413.69,257.97 413.86,257.3 414.02,256.72 414.18,256.17 414.34,255.65 414.5,255.14 414.66,254.68 414.82,254.24 414.98,253.86 415.15,253.52 415.31,253.23 415.47,253 415.63,252.83 415.79,252.72 415.95,252.61 416.11,252.51 416.27,252.42 416.43,252.34 416.6,252.28 416.76,252.22 416.92,252.18 417.08,252.15 417.24,252.14 417.24,252.14 417.31,257.76 417.38,263.09 417.45,268.14 417.53,272.94 417.6,277.49 417.67,281.81 417.74,285.92 417.81,289.82 417.88,293.53 417.95,297.06 418.03,300.42 418.1,303.62 418.17,306.67 418.24,309.57 418.31,312.33 418.38,314.97 418.45,317.49 418.53,319.89 418.6,322.19 418.67,324.38 418.74,326.48 418.81,328.48 418.88,330.4 418.95,332.24 419.03,334 419.1,335.69 419.17,337.3 419.24,338.86 419.31,340.35 419.68,347.18 420.05,352.8 420.42,357.5 420.79,361.46 421.16,364.86 421.53,367.81 421.9,370.39 422.27,372.67 422.64,374.7 423.01,376.53 423.38,378.17 423.75,379.67 424.12,381.03 424.48,382.27 424.85,383.42 425.22,384.47 425.59,385.44 425.96,386.34 426.33,387.18 426.7,387.95 427.07,388.67 427.44,389.35 427.81,389.98 428.18,390.56 428.55,391.11 428.92,391.63 429.29,392.12 429.66,392.57 430.03,393 430.4,393.41 430.77,393.8 431.14,394.16 431.51,394.5 431.88,394.83 432.24,395.14 432.61,395.44 432.98,395.72 433.35,395.99 433.72,396.24 434.09,396.49 434.46,396.72 434.83,396.95 435.2,397.16 435.57,397.37 435.94,397.57 436.31,397.76 436.68,397.94 437.05,398.12 437.42,398.29 437.79,398.46 438.16,398.62 438.53,398.77 438.9,398.92 439.27,399.06 439.64,399.2 440.01,399.34 440.37,399.47 440.74,399.6 441.11,399.72 441.48,399.84 441.85,399.96 442.22,400.07 442.59,400.18 442.96,400.29 443.33,400.39 443.7,400.49 444.07,400.59 444.44,400.68 444.81,400.78 445.18,400.87 445.55,400.96 445.92,401.04 446.29,401.13 446.66,401.21 447.03,401.29 447.4,401.36 447.77,401.44 448.14,401.51 448.5,401.58 448.5,402.62 448.67,401.87 448.83,400.49 448.99,397.89 449.15,394.89 449.31,391.57 449.47,388.09 449.63,384.56 449.79,380.94 449.96,377.23 450.12,373.42 450.28,369.51 450.44,365.46 450.6,361.3 450.76,357.08 450.92,352.85 451.08,348.6 451.24,344.24 451.41,339.86 451.57,335.55 451.73,331.42 451.89,327.55 452.05,323.89 452.21,320.36 452.37,316.88 452.53,313.37 452.7,309.85 452.86,306.35 453.02,302.9 453.18,299.53 453.34,296.81 453.5,294.81 453.66,292.82 453.82,290.85 453.98,288.91 454.15,287.01 454.31,285.16 454.47,283.35 454.63,281.6 454.79,279.87 454.95,278.14 455.11,276.43 455.27,274.75 455.44,273.12 455.6,271.55 455.76,270.05 455.92,268.64 456.08,267.32 456.24,266.11 456.4,264.94 456.56,263.79 456.73,262.67 456.89,261.61 457.05,260.6 457.21,259.66 457.37,258.81 457.53,258.05 457.69,257.39 457.85,256.83 458.01,256.29 458.18,255.78 458.34,255.29 458.5,254.83 458.66,254.4 458.82,254.01 458.98,253.66 459.14,253.36 459.3,253.11 459.47,252.92 459.63,252.78 459.79,252.68 459.95,252.58 460.11,252.49 460.27,252.4 460.43,252.33 460.59,252.27 460.75,252.21 460.92,252.18 461.08,252.15 461.24,252.14 461.24,252.14 461.31,257.76 461.38,263.09 461.45,268.14 461.52,272.94 461.6,277.49 461.67,281.81 461.74,285.92 461.81,289.82 461.88,293.53 461.95,297.06 462.02,300.42 462.09,303.62 462.17,306.67 462.24,309.57 462.31,312.33 462.38,314.97 462.45,317.49 462.52,319.89 462.59,322.19 462.67,324.38 462.74,326.48 462.81,328.48 462.88,330.4 462.95,332.24 463.02,334 463.09,335.69 463.17,337.3 463.24,338.86 463.31,340.35 463.69,347.38 464.07,353.13 464.45,357.9 464.83,361.93 465.22,365.36 465.6,368.33 465.98,370.92 466.36,373.21 466.74,375.25 467.12,377.07 467.5,378.71 467.88,380.2 468.27,381.56 468.65,382.8 469.03,383.93 469.41,384.98 469.79,385.94 470.17,386.83 470.55,387.65 470.94,388.42 471.32,389.13 471.7,389.79 472.08,390.41 472.46,390.99 472.84,391.53 473.22,392.04 473.6,392.51 473.99,392.96 474.37,393.38 474.75,393.78 475.13,394.15 475.51,394.51 475.89,394.85 476.27,395.17 476.66,395.47 477.04,395.76 477.42,396.03 477.8,396.3 478.18,396.55 478.56,396.79 478.94,397.02 479.32,397.23 479.71,397.45 480.09,397.65 480.47,397.84 480.85,398.03 481.23,398.21 481.61,398.38 481.99,398.55 482.38,398.71 482.76,398.87 483.14,399.02 483.52,399.16 483.9,399.3 484.28,399.44 484.66,399.57 485.04,399.7 485.43,399.82 485.81,399.94 486.19,400.06 486.57,400.17 486.95,400.28 487.33,400.39 487.71,400.49 488.1,400.6 488.48,400.69 488.86,400.79 489.24,400.88 489.62,400.97 490,401.06 490.38,401.15 490.76,401.23 491.15,401.31 491.53,401.39 491.91,401.47 492.29,401.54 492.67,401.62 493.05,401.69 493.43,401.76 493.43,402.62 493.58,401.85 493.72,400.38 493.86,397.66 494.01,394.6 494.15,391.19 494.29,387.67 494.43,384.08 494.58,380.39 494.72,376.61 494.86,372.73 495.01,368.71 495.15,364.55 495.29,360.31 495.43,356.04 495.58,351.77 495.72,347.4 495.86,342.97 496.01,338.6 496.15,334.4 496.29,330.45 496.43,326.75 496.58,323.18 496.72,319.67 496.86,316.12 497.01,312.57 497.15,309.04 497.29,305.57 497.43,302.19 497.58,299.91 497.72,298.03 497.86,296.16 498,294.31 498.15,292.49 498.29,290.71 498.43,288.97 498.58,287.27 498.72,285.63 498.86,284 499,282.37 499.15,280.76 499.29,279.18 499.43,277.64 499.58,276.16 499.72,274.74 499.86,273.39 500,272.14 500.15,270.99 500.29,269.88 500.43,268.79 500.58,267.73 500.72,266.71 500.86,265.75 501,264.84 501.15,264.01 501.29,263.25 501.43,262.59 501.58,262.03 501.72,261.52 501.86,261.03 502,260.56 502.15,260.11 502.29,259.69 502.43,259.3 502.58,258.95 502.72,258.63 502.86,258.37 503,258.15 503.15,257.98 503.29,257.86 503.43,257.77 503.58,257.68 503.72,257.59 503.86,257.51 504,257.44 504.15,257.39 504.29,257.34 504.43,257.3 504.58,257.28 504.72,257.27 504.72,257.27 504.79,262.93 504.86,268.28 504.93,273.35 505,278.15 505.08,282.69 505.15,287 505.22,291.08 505.29,294.95 505.36,298.62 505.43,302.11 505.5,305.42 505.57,308.57 505.65,311.56 505.72,314.41 505.79,317.11 505.86,319.69 505.93,322.15 506,324.49 506.07,326.72 506.15,328.85 506.22,330.88 506.29,332.82 506.36,334.67 506.43,336.45 506.5,338.14 506.57,339.77 506.65,341.32 506.72,342.81 506.79,344.24 507.12,350.21 507.46,355.18 507.79,359.39 508.13,362.98 508.46,366.08 508.79,368.79 509.13,371.18 509.46,373.31 509.8,375.21 510.13,376.92 510.46,378.48 510.8,379.89 511.13,381.19 511.47,382.38 511.8,383.47 512.14,384.49 512.47,385.42 512.8,386.29 513.14,387.1 513.47,387.85 513.81,388.55 514.14,389.21 514.47,389.83 514.81,390.4 515.14,390.94 515.48,391.45 515.81,391.93 516.15,392.38 516.48,392.81 516.81,393.21 517.15,393.59 517.48,393.95 517.82,394.29 518.15,394.62 518.48,394.93 518.82,395.22 519.15,395.5 519.49,395.77 519.82,396.03 520.16,396.27 520.49,396.51 520.82,396.73 521.16,396.95 521.49,397.15 521.83,397.35 522.16,397.54 522.49,397.73 522.83,397.9 523.16,398.08 523.5,398.24 523.83,398.4 524.16,398.55 524.5,398.7 524.83,398.85 525.17,398.99 525.5,399.12 525.84,399.25 526.17,399.38 526.5,399.5 526.84,399.62 527.17,399.74 527.51,399.85 527.84,399.96 528.17,400.07 528.51,400.17 528.84,400.28 529.18,400.37 529.51,400.47 529.85,400.56 530.18,400.66 530.51,400.74 530.85,400.83 531.18,400.92 531.52,401 531.85,401.08 532.18,401.16 532.52,401.23 532.85,401.31 533.19,401.38" fill="none" stroke="#111" stroke-width="1.1" stroke-linejoin="round" stroke-linecap="round" />
<polyline points="331.99,255.99 332.08,263.92 332.16,271.25 332.25,278.04 332.34,284.34 332.42,290.18 332.51,295.6 332.6,300.63 332.69,305.32 332.77,309.68 332.86,313.74 332.95,317.53 333.03,321.07 333.12,324.37 333.21,327.47 333.3,330.36 333.38,333.08 333.47,335.63 333.56,338.02" fill="none" stroke="#9a9a9a" stroke-width="1.3" stroke-linejoin="round" stroke-linecap="round" />
<rect x="322.65" y="352.96" width="1.8" height="1.0" fill="#fff"/>
<rect x="333.93" y="360.66" width="1.8" height="1.0" fill="#fff"/>
<polyline points="374.07,258.13 374.16,264.96 374.25,271.34 374.33,277.3 374.42,282.89 374.51,288.12 374.59,293.02 374.68,297.61 374.77,301.92 374.86,305.97 374.94,309.77 375.03,313.34 375.12,316.7 375.2,319.87 375.29,322.85 375.38,325.66 375.47,328.32 375.55,330.83 375.64,333.2 375.73,335.44" fill="none" stroke="#9a9a9a" stroke-width="1.3" stroke-linejoin="round" stroke-linecap="round" />
<rect x="364.76" y="352.96" width="1.8" height="1.0" fill="#fff"/>
<rect x="376.39" y="360.66" width="1.8" height="1.0" fill="#fff"/>
<polyline points="417.24,252.14 417.33,258.96 417.41,265.35 417.5,271.35 417.59,276.97 417.68,282.25 417.76,287.21 417.85,291.88 417.94,296.26 418.03,300.39 418.11,304.27 418.2,307.94 418.29,311.39 418.37,314.65 418.46,317.72 418.55,320.63 418.64,323.38 418.72,325.98 418.81,328.44 418.9,330.78" fill="none" stroke="#9a9a9a" stroke-width="1.3" stroke-linejoin="round" stroke-linecap="round" />
<rect x="406.19" y="352.96" width="1.8" height="1.0" fill="#fff"/>
<rect x="419.87" y="360.66" width="1.8" height="1.0" fill="#fff"/>
<polyline points="461.24,252.14 461.33,258.96 461.41,265.35 461.5,271.35 461.59,276.97 461.67,282.25 461.76,287.21 461.85,291.88 461.94,296.26 462.02,300.39 462.11,304.27 462.2,307.94 462.28,311.39 462.37,314.65 462.46,317.72 462.55,320.63 462.63,323.38 462.72,325.98 462.81,328.44 462.89,330.78" fill="none" stroke="#9a9a9a" stroke-width="1.3" stroke-linejoin="round" stroke-linecap="round" />
<rect x="450.02" y="352.96" width="1.8" height="1.0" fill="#fff"/>
<rect x="463.87" y="360.66" width="1.8" height="1.0" fill="#fff"/>
<polyline points="504.72,257.27 504.81,264.14 504.89,270.56 504.98,276.56 505.07,282.18 505.15,287.44 505.24,292.37 505.33,296.99 505.42,301.32 505.5,305.39 505.59,309.21 505.68,312.81 505.76,316.19 505.85,319.37 505.94,322.37 506.03,325.2 506.11,327.87 506.2,330.4 506.29,332.78 506.37,335.03" fill="none" stroke="#9a9a9a" stroke-width="1.3" stroke-linejoin="round" stroke-linecap="round" />
<rect x="494.68" y="352.96" width="1.8" height="1.0" fill="#fff"/>
<rect x="507.06" y="360.66" width="1.8" height="1.0" fill="#fff"/>
<line x1="472.3" y1="246.4" x2="490.3" y2="246.4" stroke="#777" stroke-width="0.6" />
<circle cx="481.3" cy="246.4" r="0.8" fill="#000"/>
<text x="493.6" y="249.6" font-size="9.85" text-anchor="start" fill="#000" >15 mmol</text>
<text x="428.5" y="441" font-size="12.2" text-anchor="middle" fill="#000" >Time (min)</text>
<text x="0" y="0" font-size="12.3" text-anchor="middle" transform="translate(298.53 322.9) rotate(-90) scale(1 0.92)">Resistance (MOhm)</text>
<text x="276.8" y="240" font-size="15.5" text-anchor="start" fill="#000" >(d)</text>
</svg>
</body></html>
